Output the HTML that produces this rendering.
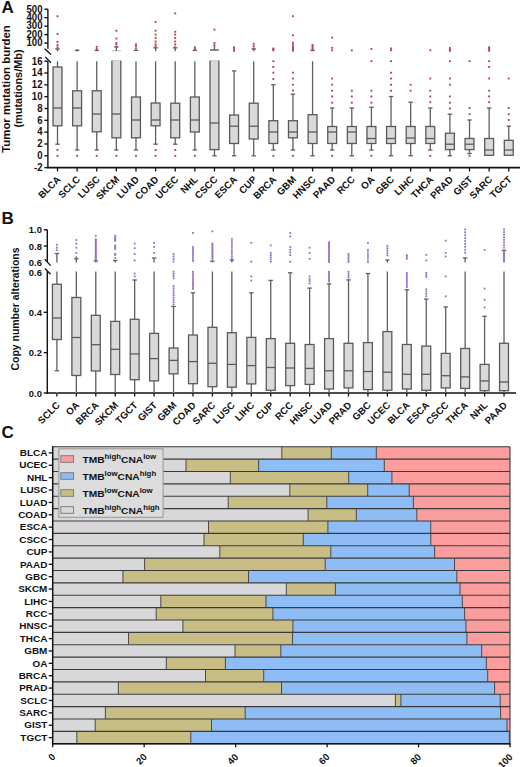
<!DOCTYPE html>
<html><head><meta charset="utf-8"><style>
html,body{margin:0;padding:0;background:#fff;}
svg{display:block;font-family:"Liberation Sans", sans-serif;}
</style></head><body>
<svg width="520" height="767" viewBox="0 0 520 767">
<rect width="520" height="767" fill="#fff"/>
<text x="1.6" y="13" font-size="17" text-anchor="start" font-weight="bold" fill="#111">A</text>
<line x1="47.9" y1="9.2" x2="47.9" y2="48.8" stroke="#111" stroke-width="1.4"/>
<line x1="44.4" y1="9.2" x2="47.9" y2="9.2" stroke="#111" stroke-width="1.4"/>
<text transform="translate(42.5 12.5) scale(1 1.07)" font-size="9.6" text-anchor="end" font-weight="bold" fill="#111">500</text>
<line x1="44.4" y1="17.67" x2="47.9" y2="17.67" stroke="#111" stroke-width="1.4"/>
<text transform="translate(42.5 20.97) scale(1 1.07)" font-size="9.6" text-anchor="end" font-weight="bold" fill="#111">400</text>
<line x1="44.4" y1="26.15" x2="47.9" y2="26.15" stroke="#111" stroke-width="1.4"/>
<text transform="translate(42.5 29.45) scale(1 1.07)" font-size="9.6" text-anchor="end" font-weight="bold" fill="#111">300</text>
<line x1="44.4" y1="34.62" x2="47.9" y2="34.62" stroke="#111" stroke-width="1.4"/>
<text transform="translate(42.5 37.92) scale(1 1.07)" font-size="9.6" text-anchor="end" font-weight="bold" fill="#111">200</text>
<line x1="44.4" y1="43.1" x2="47.9" y2="43.1" stroke="#111" stroke-width="1.4"/>
<text transform="translate(42.5 46.4) scale(1 1.07)" font-size="9.6" text-anchor="end" font-weight="bold" fill="#111">100</text>
<line x1="44.6" y1="48.8" x2="51" y2="54.6" stroke="#111" stroke-width="1.3"/>
<line x1="45.2" y1="56.9" x2="51" y2="62.7" stroke="#111" stroke-width="1.3"/>
<line x1="47.9" y1="61.2" x2="47.9" y2="167.6" stroke="#111" stroke-width="1.4"/>
<line x1="44.4" y1="61.2" x2="47.9" y2="61.2" stroke="#111" stroke-width="1.4"/>
<text transform="translate(42.5 64.5) scale(1 1.07)" font-size="9.6" text-anchor="end" font-weight="bold" fill="#111">16</text>
<line x1="44.4" y1="73.03" x2="47.9" y2="73.03" stroke="#111" stroke-width="1.4"/>
<text transform="translate(42.5 76.33) scale(1 1.07)" font-size="9.6" text-anchor="end" font-weight="bold" fill="#111">14</text>
<line x1="44.4" y1="84.85" x2="47.9" y2="84.85" stroke="#111" stroke-width="1.4"/>
<text transform="translate(42.5 88.15) scale(1 1.07)" font-size="9.6" text-anchor="end" font-weight="bold" fill="#111">12</text>
<line x1="44.4" y1="96.68" x2="47.9" y2="96.68" stroke="#111" stroke-width="1.4"/>
<text transform="translate(42.5 99.98) scale(1 1.07)" font-size="9.6" text-anchor="end" font-weight="bold" fill="#111">10</text>
<line x1="44.4" y1="108.5" x2="47.9" y2="108.5" stroke="#111" stroke-width="1.4"/>
<text transform="translate(42.5 111.8) scale(1 1.07)" font-size="9.6" text-anchor="end" font-weight="bold" fill="#111">8</text>
<line x1="44.4" y1="120.33" x2="47.9" y2="120.33" stroke="#111" stroke-width="1.4"/>
<text transform="translate(42.5 123.63) scale(1 1.07)" font-size="9.6" text-anchor="end" font-weight="bold" fill="#111">6</text>
<line x1="44.4" y1="132.15" x2="47.9" y2="132.15" stroke="#111" stroke-width="1.4"/>
<text transform="translate(42.5 135.45) scale(1 1.07)" font-size="9.6" text-anchor="end" font-weight="bold" fill="#111">4</text>
<line x1="44.4" y1="143.98" x2="47.9" y2="143.98" stroke="#111" stroke-width="1.4"/>
<text transform="translate(42.5 147.28) scale(1 1.07)" font-size="9.6" text-anchor="end" font-weight="bold" fill="#111">2</text>
<line x1="44.4" y1="155.8" x2="47.9" y2="155.8" stroke="#111" stroke-width="1.4"/>
<text transform="translate(42.5 159.1) scale(1 1.07)" font-size="9.6" text-anchor="end" font-weight="bold" fill="#111">0</text>
<line x1="44.4" y1="167.62" x2="47.9" y2="167.62" stroke="#111" stroke-width="1.4"/>
<text transform="translate(42.5 170.93) scale(1 1.07)" font-size="9.6" text-anchor="end" font-weight="bold" fill="#111">-2</text>
<line x1="47.2" y1="167.6" x2="520" y2="167.6" stroke="#111" stroke-width="1.6"/>
<line x1="57.5" y1="61.2" x2="57.5" y2="67" stroke="#5e5e5e" stroke-width="1.3"/>
<line x1="57.5" y1="125.8" x2="57.5" y2="144.2" stroke="#5e5e5e" stroke-width="1.3"/>
<line x1="55.3" y1="144.2" x2="59.7" y2="144.2" stroke="#5e5e5e" stroke-width="1.3"/>
<rect x="53.05" y="67" width="8.9" height="58.8" fill="#d9d9d9" stroke="#5a5a5a" stroke-width="1.3"/>
<line x1="53.05" y1="108" x2="61.95" y2="108" stroke="#5a5a5a" stroke-width="1.3"/>
<line x1="57.5" y1="49" x2="57.5" y2="51.3" stroke="#5e5e5e" stroke-width="1.3"/>
<line x1="55.3" y1="49" x2="59.7" y2="49" stroke="#5e5e5e" stroke-width="1.3"/>
<rect x="56.55" y="15.25" width="1.9" height="1.9" fill="#b4474f"/>
<rect x="56.55" y="32.95" width="1.9" height="1.9" fill="#b4474f"/>
<rect x="56.55" y="41.05" width="1.9" height="1.9" fill="#b4474f"/>
<rect x="56.55" y="44.05" width="1.9" height="1.9" fill="#b4474f"/>
<rect x="56.55" y="46.35" width="1.9" height="1.9" fill="#b4474f"/>
<rect x="56.55" y="48.05" width="1.9" height="1.9" fill="#b4474f"/>
<rect x="56.55" y="149.05" width="1.9" height="1.9" fill="#b4474f"/>
<rect x="56.55" y="154.85" width="1.9" height="1.9" fill="#b4474f"/>
<line x1="57.5" y1="167.6" x2="57.5" y2="171.4" stroke="#111" stroke-width="1.3"/>
<text x="61.2" y="180" font-size="9.7" text-anchor="end" font-weight="bold" fill="#111" transform="rotate(-45 61.2 180)">BLCA</text>
<line x1="77.12" y1="61.2" x2="77.12" y2="90.8" stroke="#5e5e5e" stroke-width="1.3"/>
<line x1="77.12" y1="125.8" x2="77.12" y2="150" stroke="#5e5e5e" stroke-width="1.3"/>
<line x1="74.92" y1="150" x2="79.32" y2="150" stroke="#5e5e5e" stroke-width="1.3"/>
<rect x="72.67" y="90.8" width="8.9" height="35" fill="#d9d9d9" stroke="#5a5a5a" stroke-width="1.3"/>
<line x1="72.67" y1="108" x2="81.57" y2="108" stroke="#5a5a5a" stroke-width="1.3"/>
<line x1="77.12" y1="50.3" x2="77.12" y2="51.3" stroke="#5e5e5e" stroke-width="1.3"/>
<line x1="74.92" y1="50.3" x2="79.32" y2="50.3" stroke="#5e5e5e" stroke-width="1.3"/>
<rect x="76.17" y="49.35" width="1.9" height="1.9" fill="#b4474f"/>
<rect x="76.17" y="154.85" width="1.9" height="1.9" fill="#b4474f"/>
<line x1="77.12" y1="167.6" x2="77.12" y2="171.4" stroke="#111" stroke-width="1.3"/>
<text x="80.82" y="180" font-size="9.7" text-anchor="end" font-weight="bold" fill="#111" transform="rotate(-45 80.82 180)">SCLC</text>
<line x1="96.74" y1="61.2" x2="96.74" y2="90.8" stroke="#5e5e5e" stroke-width="1.3"/>
<line x1="96.74" y1="131.8" x2="96.74" y2="150" stroke="#5e5e5e" stroke-width="1.3"/>
<line x1="94.54" y1="150" x2="98.94" y2="150" stroke="#5e5e5e" stroke-width="1.3"/>
<rect x="92.29" y="90.8" width="8.9" height="41" fill="#d9d9d9" stroke="#5a5a5a" stroke-width="1.3"/>
<line x1="92.29" y1="114" x2="101.19" y2="114" stroke="#5a5a5a" stroke-width="1.3"/>
<line x1="96.74" y1="50.3" x2="96.74" y2="51.3" stroke="#5e5e5e" stroke-width="1.3"/>
<line x1="94.54" y1="50.3" x2="98.94" y2="50.3" stroke="#5e5e5e" stroke-width="1.3"/>
<rect x="95.79" y="45.85" width="1.9" height="1.9" fill="#b4474f"/>
<rect x="95.79" y="48.05" width="1.9" height="1.9" fill="#b4474f"/>
<rect x="95.79" y="154.85" width="1.9" height="1.9" fill="#b4474f"/>
<line x1="96.74" y1="167.6" x2="96.74" y2="171.4" stroke="#111" stroke-width="1.3"/>
<text x="100.44" y="180" font-size="9.7" text-anchor="end" font-weight="bold" fill="#111" transform="rotate(-45 100.44 180)">LUSC</text>
<line x1="116.36" y1="61.2" x2="116.36" y2="61.2" stroke="#5e5e5e" stroke-width="1.3"/>
<line x1="116.36" y1="137.8" x2="116.36" y2="150" stroke="#5e5e5e" stroke-width="1.3"/>
<line x1="114.16" y1="150" x2="118.56" y2="150" stroke="#5e5e5e" stroke-width="1.3"/>
<rect x="111.91" y="61.2" width="8.9" height="76.6" fill="#d9d9d9" stroke="#5a5a5a" stroke-width="1.3"/>
<rect x="112.61" y="60.2" width="7.5" height="2" fill="#d9d9d9"/>
<line x1="111.91" y1="114" x2="120.81" y2="114" stroke="#5a5a5a" stroke-width="1.3"/>
<line x1="111.91" y1="50.8" x2="120.81" y2="50.8" stroke="#bbb" stroke-width="1"/>
<line x1="116.36" y1="46.9" x2="116.36" y2="50.8" stroke="#5e5e5e" stroke-width="1.3"/>
<line x1="114.16" y1="46.9" x2="118.56" y2="46.9" stroke="#5e5e5e" stroke-width="1.3"/>
<rect x="115.41" y="29.85" width="1.9" height="1.9" fill="#b4474f"/>
<rect x="115.41" y="37.55" width="1.9" height="1.9" fill="#b4474f"/>
<rect x="115.41" y="42.05" width="1.9" height="1.9" fill="#b4474f"/>
<rect x="115.41" y="43.65" width="1.9" height="1.9" fill="#b4474f"/>
<rect x="115.41" y="45.95" width="1.9" height="1.9" fill="#b4474f"/>
<rect x="115.41" y="154.85" width="1.9" height="1.9" fill="#b4474f"/>
<line x1="116.36" y1="167.6" x2="116.36" y2="171.4" stroke="#111" stroke-width="1.3"/>
<text x="120.06" y="180" font-size="9.7" text-anchor="end" font-weight="bold" fill="#111" transform="rotate(-45 120.06 180)">SKCM</text>
<line x1="135.98" y1="61.2" x2="135.98" y2="97" stroke="#5e5e5e" stroke-width="1.3"/>
<line x1="135.98" y1="137.8" x2="135.98" y2="150" stroke="#5e5e5e" stroke-width="1.3"/>
<line x1="133.78" y1="150" x2="138.18" y2="150" stroke="#5e5e5e" stroke-width="1.3"/>
<rect x="131.53" y="97" width="8.9" height="40.8" fill="#d9d9d9" stroke="#5a5a5a" stroke-width="1.3"/>
<line x1="131.53" y1="120" x2="140.43" y2="120" stroke="#5a5a5a" stroke-width="1.3"/>
<line x1="135.98" y1="50.3" x2="135.98" y2="51.3" stroke="#5e5e5e" stroke-width="1.3"/>
<line x1="133.78" y1="50.3" x2="138.18" y2="50.3" stroke="#5e5e5e" stroke-width="1.3"/>
<rect x="135.03" y="43.35" width="1.9" height="1.9" fill="#b4474f"/>
<rect x="135.03" y="45.25" width="1.9" height="1.9" fill="#b4474f"/>
<rect x="135.03" y="47.55" width="1.9" height="1.9" fill="#b4474f"/>
<rect x="135.03" y="154.85" width="1.9" height="1.9" fill="#b4474f"/>
<line x1="135.98" y1="167.6" x2="135.98" y2="171.4" stroke="#111" stroke-width="1.3"/>
<text x="139.68" y="180" font-size="9.7" text-anchor="end" font-weight="bold" fill="#111" transform="rotate(-45 139.68 180)">LUAD</text>
<line x1="155.6" y1="61.2" x2="155.6" y2="103" stroke="#5e5e5e" stroke-width="1.3"/>
<line x1="155.6" y1="125.8" x2="155.6" y2="144.2" stroke="#5e5e5e" stroke-width="1.3"/>
<line x1="153.4" y1="144.2" x2="157.8" y2="144.2" stroke="#5e5e5e" stroke-width="1.3"/>
<rect x="151.15" y="103" width="8.9" height="22.8" fill="#d9d9d9" stroke="#5a5a5a" stroke-width="1.3"/>
<line x1="151.15" y1="120" x2="160.05" y2="120" stroke="#5a5a5a" stroke-width="1.3"/>
<line x1="155.6" y1="47.8" x2="155.6" y2="51.3" stroke="#5e5e5e" stroke-width="1.3"/>
<line x1="153.4" y1="47.8" x2="157.8" y2="47.8" stroke="#5e5e5e" stroke-width="1.3"/>
<rect x="154.65" y="20.95" width="1.9" height="1.9" fill="#b4474f"/>
<rect x="154.65" y="29.75" width="1.9" height="1.9" fill="#b4474f"/>
<rect x="154.65" y="33.65" width="1.9" height="1.9" fill="#b4474f"/>
<rect x="154.65" y="37.05" width="1.9" height="1.9" fill="#b4474f"/>
<rect x="154.65" y="40.55" width="1.9" height="1.9" fill="#b4474f"/>
<rect x="154.65" y="43.35" width="1.9" height="1.9" fill="#b4474f"/>
<rect x="154.65" y="45.25" width="1.9" height="1.9" fill="#b4474f"/>
<rect x="154.65" y="149.05" width="1.9" height="1.9" fill="#b4474f"/>
<rect x="154.65" y="154.85" width="1.9" height="1.9" fill="#b4474f"/>
<line x1="155.6" y1="167.6" x2="155.6" y2="171.4" stroke="#111" stroke-width="1.3"/>
<text x="159.3" y="180" font-size="9.7" text-anchor="end" font-weight="bold" fill="#111" transform="rotate(-45 159.3 180)">COAD</text>
<line x1="175.22" y1="61.2" x2="175.22" y2="103.2" stroke="#5e5e5e" stroke-width="1.3"/>
<line x1="175.22" y1="137.8" x2="175.22" y2="144.2" stroke="#5e5e5e" stroke-width="1.3"/>
<line x1="173.02" y1="144.2" x2="177.42" y2="144.2" stroke="#5e5e5e" stroke-width="1.3"/>
<rect x="170.77" y="103.2" width="8.9" height="34.6" fill="#d9d9d9" stroke="#5a5a5a" stroke-width="1.3"/>
<line x1="170.77" y1="120" x2="179.67" y2="120" stroke="#5a5a5a" stroke-width="1.3"/>
<line x1="175.22" y1="47.8" x2="175.22" y2="51.3" stroke="#5e5e5e" stroke-width="1.3"/>
<line x1="173.02" y1="47.8" x2="177.42" y2="47.8" stroke="#5e5e5e" stroke-width="1.3"/>
<rect x="174.27" y="12.45" width="1.9" height="1.9" fill="#b4474f"/>
<rect x="174.27" y="30.85" width="1.9" height="1.9" fill="#b4474f"/>
<rect x="174.27" y="33.65" width="1.9" height="1.9" fill="#b4474f"/>
<rect x="174.27" y="37.15" width="1.9" height="1.9" fill="#b4474f"/>
<rect x="174.27" y="40.55" width="1.9" height="1.9" fill="#b4474f"/>
<rect x="174.27" y="43.55" width="1.9" height="1.9" fill="#b4474f"/>
<rect x="174.27" y="46.35" width="1.9" height="1.9" fill="#b4474f"/>
<rect x="174.27" y="149.05" width="1.9" height="1.9" fill="#b4474f"/>
<rect x="174.27" y="154.85" width="1.9" height="1.9" fill="#b4474f"/>
<line x1="175.22" y1="167.6" x2="175.22" y2="171.4" stroke="#111" stroke-width="1.3"/>
<text x="178.92" y="180" font-size="9.7" text-anchor="end" font-weight="bold" fill="#111" transform="rotate(-45 178.92 180)">UCEC</text>
<line x1="194.84" y1="61.2" x2="194.84" y2="97" stroke="#5e5e5e" stroke-width="1.3"/>
<line x1="194.84" y1="132" x2="194.84" y2="150" stroke="#5e5e5e" stroke-width="1.3"/>
<line x1="192.64" y1="150" x2="197.04" y2="150" stroke="#5e5e5e" stroke-width="1.3"/>
<rect x="190.39" y="97" width="8.9" height="35" fill="#d9d9d9" stroke="#5a5a5a" stroke-width="1.3"/>
<line x1="190.39" y1="120" x2="199.29" y2="120" stroke="#5a5a5a" stroke-width="1.3"/>
<line x1="194.84" y1="50.3" x2="194.84" y2="51.3" stroke="#5e5e5e" stroke-width="1.3"/>
<line x1="192.64" y1="50.3" x2="197.04" y2="50.3" stroke="#5e5e5e" stroke-width="1.3"/>
<rect x="193.89" y="46.35" width="1.9" height="1.9" fill="#b4474f"/>
<rect x="193.89" y="48.05" width="1.9" height="1.9" fill="#b4474f"/>
<rect x="193.89" y="154.85" width="1.9" height="1.9" fill="#b4474f"/>
<line x1="194.84" y1="167.6" x2="194.84" y2="171.4" stroke="#111" stroke-width="1.3"/>
<text x="198.54" y="180" font-size="9.7" text-anchor="end" font-weight="bold" fill="#111" transform="rotate(-45 198.54 180)">NHL</text>
<line x1="214.46" y1="61.2" x2="214.46" y2="61.2" stroke="#5e5e5e" stroke-width="1.3"/>
<line x1="214.46" y1="149.6" x2="214.46" y2="155.8" stroke="#5e5e5e" stroke-width="1.3"/>
<line x1="212.26" y1="155.8" x2="216.66" y2="155.8" stroke="#5e5e5e" stroke-width="1.3"/>
<rect x="210.01" y="61.2" width="8.9" height="88.4" fill="#d9d9d9" stroke="#5a5a5a" stroke-width="1.3"/>
<rect x="210.71" y="60.2" width="7.5" height="2" fill="#d9d9d9"/>
<line x1="210.01" y1="123" x2="218.91" y2="123" stroke="#5a5a5a" stroke-width="1.3"/>
<line x1="210.01" y1="50" x2="218.91" y2="50" stroke="#5a5a5a" stroke-width="1.4"/>
<line x1="214.46" y1="44.5" x2="214.46" y2="50" stroke="#5e5e5e" stroke-width="1.3"/>
<rect x="213.51" y="28.65" width="1.9" height="1.9" fill="#b4474f"/>
<rect x="213.51" y="42.05" width="1.9" height="1.9" fill="#b4474f"/>
<rect x="213.51" y="44.45" width="1.9" height="1.9" fill="#b4474f"/>
<line x1="214.46" y1="167.6" x2="214.46" y2="171.4" stroke="#111" stroke-width="1.3"/>
<text x="218.16" y="180" font-size="9.7" text-anchor="end" font-weight="bold" fill="#111" transform="rotate(-45 218.16 180)">CSCC</text>
<line x1="234.08" y1="70.9" x2="234.08" y2="115" stroke="#5e5e5e" stroke-width="1.3"/>
<line x1="231.88" y1="70.9" x2="236.28" y2="70.9" stroke="#5e5e5e" stroke-width="1.3"/>
<line x1="234.08" y1="143.5" x2="234.08" y2="155.8" stroke="#5e5e5e" stroke-width="1.3"/>
<line x1="231.88" y1="155.8" x2="236.28" y2="155.8" stroke="#5e5e5e" stroke-width="1.3"/>
<rect x="229.63" y="115" width="8.9" height="28.5" fill="#d9d9d9" stroke="#5a5a5a" stroke-width="1.3"/>
<line x1="229.63" y1="126.2" x2="238.53" y2="126.2" stroke="#5a5a5a" stroke-width="1.3"/>
<rect x="233.13" y="46.35" width="1.9" height="1.9" fill="#b4474f"/>
<rect x="233.13" y="48.05" width="1.9" height="1.9" fill="#b4474f"/>
<rect x="233.13" y="49.85" width="1.9" height="1.9" fill="#b4474f"/>
<line x1="234.08" y1="167.6" x2="234.08" y2="171.4" stroke="#111" stroke-width="1.3"/>
<text x="237.78" y="180" font-size="9.7" text-anchor="end" font-weight="bold" fill="#111" transform="rotate(-45 237.78 180)">ESCA</text>
<line x1="253.7" y1="61.2" x2="253.7" y2="103.2" stroke="#5e5e5e" stroke-width="1.3"/>
<line x1="253.7" y1="139" x2="253.7" y2="155.8" stroke="#5e5e5e" stroke-width="1.3"/>
<line x1="251.5" y1="155.8" x2="255.9" y2="155.8" stroke="#5e5e5e" stroke-width="1.3"/>
<rect x="249.25" y="103.2" width="8.9" height="35.8" fill="#d9d9d9" stroke="#5a5a5a" stroke-width="1.3"/>
<line x1="249.25" y1="126.2" x2="258.15" y2="126.2" stroke="#5a5a5a" stroke-width="1.3"/>
<line x1="253.7" y1="49" x2="253.7" y2="51.3" stroke="#5e5e5e" stroke-width="1.3"/>
<line x1="251.5" y1="49" x2="255.9" y2="49" stroke="#5e5e5e" stroke-width="1.3"/>
<rect x="252.75" y="42.85" width="1.9" height="1.9" fill="#b4474f"/>
<rect x="252.75" y="45.25" width="1.9" height="1.9" fill="#b4474f"/>
<rect x="252.75" y="47.55" width="1.9" height="1.9" fill="#b4474f"/>
<line x1="253.7" y1="167.6" x2="253.7" y2="171.4" stroke="#111" stroke-width="1.3"/>
<text x="257.4" y="180" font-size="9.7" text-anchor="end" font-weight="bold" fill="#111" transform="rotate(-45 257.4 180)">CUP</text>
<line x1="273.32" y1="84.7" x2="273.32" y2="120.7" stroke="#5e5e5e" stroke-width="1.3"/>
<line x1="271.12" y1="84.7" x2="275.52" y2="84.7" stroke="#5e5e5e" stroke-width="1.3"/>
<line x1="273.32" y1="143.5" x2="273.32" y2="150" stroke="#5e5e5e" stroke-width="1.3"/>
<line x1="271.12" y1="150" x2="275.52" y2="150" stroke="#5e5e5e" stroke-width="1.3"/>
<rect x="268.87" y="120.7" width="8.9" height="22.8" fill="#d9d9d9" stroke="#5a5a5a" stroke-width="1.3"/>
<line x1="268.87" y1="132" x2="277.77" y2="132" stroke="#5a5a5a" stroke-width="1.3"/>
<rect x="272.37" y="47.55" width="1.9" height="1.9" fill="#b4474f"/>
<rect x="272.37" y="48.55" width="1.9" height="1.9" fill="#b4474f"/>
<rect x="272.37" y="49.35" width="1.9" height="1.9" fill="#b4474f"/>
<rect x="272.37" y="60.25" width="1.9" height="1.9" fill="#b4474f"/>
<rect x="272.37" y="66.05" width="1.9" height="1.9" fill="#b4474f"/>
<rect x="272.37" y="71.75" width="1.9" height="1.9" fill="#b4474f"/>
<rect x="272.37" y="78.05" width="1.9" height="1.9" fill="#b4474f"/>
<rect x="272.37" y="154.85" width="1.9" height="1.9" fill="#b4474f"/>
<line x1="273.32" y1="167.6" x2="273.32" y2="171.4" stroke="#111" stroke-width="1.3"/>
<text x="277.02" y="180" font-size="9.7" text-anchor="end" font-weight="bold" fill="#111" transform="rotate(-45 277.02 180)">BRCA</text>
<line x1="292.94" y1="94.2" x2="292.94" y2="120.7" stroke="#5e5e5e" stroke-width="1.3"/>
<line x1="290.74" y1="94.2" x2="295.14" y2="94.2" stroke="#5e5e5e" stroke-width="1.3"/>
<line x1="292.94" y1="137.8" x2="292.94" y2="150" stroke="#5e5e5e" stroke-width="1.3"/>
<line x1="290.74" y1="150" x2="295.14" y2="150" stroke="#5e5e5e" stroke-width="1.3"/>
<rect x="288.49" y="120.7" width="8.9" height="17.1" fill="#d9d9d9" stroke="#5a5a5a" stroke-width="1.3"/>
<line x1="288.49" y1="132" x2="297.39" y2="132" stroke="#5a5a5a" stroke-width="1.3"/>
<rect x="291.99" y="15.25" width="1.9" height="1.9" fill="#b4474f"/>
<rect x="291.99" y="34.35" width="1.9" height="1.9" fill="#b4474f"/>
<rect x="291.99" y="41.75" width="1.9" height="1.9" fill="#b4474f"/>
<rect x="291.99" y="43.55" width="1.9" height="1.9" fill="#b4474f"/>
<rect x="291.99" y="45.35" width="1.9" height="1.9" fill="#b4474f"/>
<rect x="291.99" y="47.05" width="1.9" height="1.9" fill="#b4474f"/>
<rect x="291.99" y="48.55" width="1.9" height="1.9" fill="#b4474f"/>
<rect x="291.99" y="49.85" width="1.9" height="1.9" fill="#b4474f"/>
<rect x="291.99" y="71.75" width="1.9" height="1.9" fill="#b4474f"/>
<rect x="291.99" y="77.55" width="1.9" height="1.9" fill="#b4474f"/>
<rect x="291.99" y="83.75" width="1.9" height="1.9" fill="#b4474f"/>
<rect x="291.99" y="89.55" width="1.9" height="1.9" fill="#b4474f"/>
<rect x="291.99" y="154.85" width="1.9" height="1.9" fill="#b4474f"/>
<line x1="292.94" y1="167.6" x2="292.94" y2="171.4" stroke="#111" stroke-width="1.3"/>
<text x="296.64" y="180" font-size="9.7" text-anchor="end" font-weight="bold" fill="#111" transform="rotate(-45 296.64 180)">GBM</text>
<line x1="312.56" y1="61.2" x2="312.56" y2="114.7" stroke="#5e5e5e" stroke-width="1.3"/>
<line x1="312.56" y1="143.5" x2="312.56" y2="155.8" stroke="#5e5e5e" stroke-width="1.3"/>
<line x1="310.36" y1="155.8" x2="314.76" y2="155.8" stroke="#5e5e5e" stroke-width="1.3"/>
<rect x="308.11" y="114.7" width="8.9" height="28.8" fill="#d9d9d9" stroke="#5a5a5a" stroke-width="1.3"/>
<line x1="308.11" y1="132" x2="317.01" y2="132" stroke="#5a5a5a" stroke-width="1.3"/>
<line x1="312.56" y1="50.3" x2="312.56" y2="51.3" stroke="#5e5e5e" stroke-width="1.3"/>
<line x1="310.36" y1="50.3" x2="314.76" y2="50.3" stroke="#5e5e5e" stroke-width="1.3"/>
<rect x="311.61" y="44.05" width="1.9" height="1.9" fill="#b4474f"/>
<rect x="311.61" y="45.55" width="1.9" height="1.9" fill="#b4474f"/>
<rect x="311.61" y="47.05" width="1.9" height="1.9" fill="#b4474f"/>
<rect x="311.61" y="48.55" width="1.9" height="1.9" fill="#b4474f"/>
<line x1="312.56" y1="167.6" x2="312.56" y2="171.4" stroke="#111" stroke-width="1.3"/>
<text x="316.26" y="180" font-size="9.7" text-anchor="end" font-weight="bold" fill="#111" transform="rotate(-45 316.26 180)">HNSC</text>
<line x1="332.18" y1="108" x2="332.18" y2="126.5" stroke="#5e5e5e" stroke-width="1.3"/>
<line x1="329.98" y1="108" x2="334.38" y2="108" stroke="#5e5e5e" stroke-width="1.3"/>
<line x1="332.18" y1="143.5" x2="332.18" y2="150" stroke="#5e5e5e" stroke-width="1.3"/>
<line x1="329.98" y1="150" x2="334.38" y2="150" stroke="#5e5e5e" stroke-width="1.3"/>
<rect x="327.73" y="126.5" width="8.9" height="17" fill="#d9d9d9" stroke="#5a5a5a" stroke-width="1.3"/>
<line x1="327.73" y1="132" x2="336.63" y2="132" stroke="#5a5a5a" stroke-width="1.3"/>
<rect x="331.23" y="36.65" width="1.9" height="1.9" fill="#b4474f"/>
<rect x="331.23" y="46.85" width="1.9" height="1.9" fill="#b4474f"/>
<rect x="331.23" y="49.35" width="1.9" height="1.9" fill="#b4474f"/>
<rect x="331.23" y="77.55" width="1.9" height="1.9" fill="#b4474f"/>
<rect x="331.23" y="83.75" width="1.9" height="1.9" fill="#b4474f"/>
<rect x="331.23" y="89.75" width="1.9" height="1.9" fill="#b4474f"/>
<rect x="331.23" y="95.55" width="1.9" height="1.9" fill="#b4474f"/>
<rect x="331.23" y="101.75" width="1.9" height="1.9" fill="#b4474f"/>
<rect x="331.23" y="154.85" width="1.9" height="1.9" fill="#b4474f"/>
<line x1="332.18" y1="167.6" x2="332.18" y2="171.4" stroke="#111" stroke-width="1.3"/>
<text x="335.88" y="180" font-size="9.7" text-anchor="end" font-weight="bold" fill="#111" transform="rotate(-45 335.88 180)">PAAD</text>
<line x1="351.8" y1="108" x2="351.8" y2="126.5" stroke="#5e5e5e" stroke-width="1.3"/>
<line x1="349.6" y1="108" x2="354" y2="108" stroke="#5e5e5e" stroke-width="1.3"/>
<line x1="351.8" y1="143.5" x2="351.8" y2="155.8" stroke="#5e5e5e" stroke-width="1.3"/>
<line x1="349.6" y1="155.8" x2="354" y2="155.8" stroke="#5e5e5e" stroke-width="1.3"/>
<rect x="347.35" y="126.5" width="8.9" height="17" fill="#d9d9d9" stroke="#5a5a5a" stroke-width="1.3"/>
<line x1="347.35" y1="132" x2="356.25" y2="132" stroke="#5a5a5a" stroke-width="1.3"/>
<rect x="350.85" y="49.35" width="1.9" height="1.9" fill="#b4474f"/>
<rect x="350.85" y="89.75" width="1.9" height="1.9" fill="#b4474f"/>
<rect x="350.85" y="95.55" width="1.9" height="1.9" fill="#b4474f"/>
<rect x="350.85" y="101.75" width="1.9" height="1.9" fill="#b4474f"/>
<line x1="351.8" y1="167.6" x2="351.8" y2="171.4" stroke="#111" stroke-width="1.3"/>
<text x="355.5" y="180" font-size="9.7" text-anchor="end" font-weight="bold" fill="#111" transform="rotate(-45 355.5 180)">RCC</text>
<line x1="371.42" y1="107.3" x2="371.42" y2="126.5" stroke="#5e5e5e" stroke-width="1.3"/>
<line x1="369.22" y1="107.3" x2="373.62" y2="107.3" stroke="#5e5e5e" stroke-width="1.3"/>
<line x1="371.42" y1="143.5" x2="371.42" y2="150" stroke="#5e5e5e" stroke-width="1.3"/>
<line x1="369.22" y1="150" x2="373.62" y2="150" stroke="#5e5e5e" stroke-width="1.3"/>
<rect x="366.97" y="126.5" width="8.9" height="17" fill="#d9d9d9" stroke="#5a5a5a" stroke-width="1.3"/>
<line x1="366.97" y1="138.5" x2="375.87" y2="138.5" stroke="#5a5a5a" stroke-width="1.3"/>
<rect x="370.47" y="48.05" width="1.9" height="1.9" fill="#b4474f"/>
<rect x="370.47" y="60.25" width="1.9" height="1.9" fill="#b4474f"/>
<rect x="370.47" y="89.75" width="1.9" height="1.9" fill="#b4474f"/>
<rect x="370.47" y="95.55" width="1.9" height="1.9" fill="#b4474f"/>
<rect x="370.47" y="101.75" width="1.9" height="1.9" fill="#b4474f"/>
<rect x="370.47" y="154.85" width="1.9" height="1.9" fill="#b4474f"/>
<line x1="371.42" y1="167.6" x2="371.42" y2="171.4" stroke="#111" stroke-width="1.3"/>
<text x="375.12" y="180" font-size="9.7" text-anchor="end" font-weight="bold" fill="#111" transform="rotate(-45 375.12 180)">OA</text>
<line x1="391.04" y1="96.5" x2="391.04" y2="126.5" stroke="#5e5e5e" stroke-width="1.3"/>
<line x1="388.84" y1="96.5" x2="393.24" y2="96.5" stroke="#5e5e5e" stroke-width="1.3"/>
<line x1="391.04" y1="143.5" x2="391.04" y2="155.8" stroke="#5e5e5e" stroke-width="1.3"/>
<line x1="388.84" y1="155.8" x2="393.24" y2="155.8" stroke="#5e5e5e" stroke-width="1.3"/>
<rect x="386.59" y="126.5" width="8.9" height="17" fill="#d9d9d9" stroke="#5a5a5a" stroke-width="1.3"/>
<line x1="386.59" y1="138.5" x2="395.49" y2="138.5" stroke="#5a5a5a" stroke-width="1.3"/>
<rect x="390.09" y="47.55" width="1.9" height="1.9" fill="#b4474f"/>
<rect x="390.09" y="49.35" width="1.9" height="1.9" fill="#b4474f"/>
<rect x="390.09" y="60.25" width="1.9" height="1.9" fill="#b4474f"/>
<rect x="390.09" y="71.75" width="1.9" height="1.9" fill="#b4474f"/>
<rect x="390.09" y="77.55" width="1.9" height="1.9" fill="#b4474f"/>
<rect x="390.09" y="83.75" width="1.9" height="1.9" fill="#b4474f"/>
<rect x="390.09" y="89.75" width="1.9" height="1.9" fill="#b4474f"/>
<line x1="391.04" y1="167.6" x2="391.04" y2="171.4" stroke="#111" stroke-width="1.3"/>
<text x="394.74" y="180" font-size="9.7" text-anchor="end" font-weight="bold" fill="#111" transform="rotate(-45 394.74 180)">GBC</text>
<line x1="410.66" y1="102.2" x2="410.66" y2="126.5" stroke="#5e5e5e" stroke-width="1.3"/>
<line x1="408.46" y1="102.2" x2="412.86" y2="102.2" stroke="#5e5e5e" stroke-width="1.3"/>
<line x1="410.66" y1="143.5" x2="410.66" y2="155.8" stroke="#5e5e5e" stroke-width="1.3"/>
<line x1="408.46" y1="155.8" x2="412.86" y2="155.8" stroke="#5e5e5e" stroke-width="1.3"/>
<rect x="406.21" y="126.5" width="8.9" height="17" fill="#d9d9d9" stroke="#5a5a5a" stroke-width="1.3"/>
<line x1="406.21" y1="138" x2="415.11" y2="138" stroke="#5a5a5a" stroke-width="1.3"/>
<rect x="409.71" y="83.75" width="1.9" height="1.9" fill="#b4474f"/>
<rect x="409.71" y="89.75" width="1.9" height="1.9" fill="#b4474f"/>
<line x1="410.66" y1="167.6" x2="410.66" y2="171.4" stroke="#111" stroke-width="1.3"/>
<text x="414.36" y="180" font-size="9.7" text-anchor="end" font-weight="bold" fill="#111" transform="rotate(-45 414.36 180)">LIHC</text>
<line x1="430.28" y1="108" x2="430.28" y2="126.5" stroke="#5e5e5e" stroke-width="1.3"/>
<line x1="428.08" y1="108" x2="432.48" y2="108" stroke="#5e5e5e" stroke-width="1.3"/>
<line x1="430.28" y1="143.5" x2="430.28" y2="150" stroke="#5e5e5e" stroke-width="1.3"/>
<line x1="428.08" y1="150" x2="432.48" y2="150" stroke="#5e5e5e" stroke-width="1.3"/>
<rect x="425.83" y="126.5" width="8.9" height="17" fill="#d9d9d9" stroke="#5a5a5a" stroke-width="1.3"/>
<line x1="425.83" y1="138.5" x2="434.73" y2="138.5" stroke="#5a5a5a" stroke-width="1.3"/>
<rect x="429.33" y="49.35" width="1.9" height="1.9" fill="#b4474f"/>
<rect x="429.33" y="77.55" width="1.9" height="1.9" fill="#b4474f"/>
<rect x="429.33" y="89.75" width="1.9" height="1.9" fill="#b4474f"/>
<rect x="429.33" y="95.55" width="1.9" height="1.9" fill="#b4474f"/>
<rect x="429.33" y="101.25" width="1.9" height="1.9" fill="#b4474f"/>
<rect x="429.33" y="154.85" width="1.9" height="1.9" fill="#b4474f"/>
<line x1="430.28" y1="167.6" x2="430.28" y2="171.4" stroke="#111" stroke-width="1.3"/>
<text x="433.98" y="180" font-size="9.7" text-anchor="end" font-weight="bold" fill="#111" transform="rotate(-45 433.98 180)">THCA</text>
<line x1="449.9" y1="114.2" x2="449.9" y2="133.2" stroke="#5e5e5e" stroke-width="1.3"/>
<line x1="447.7" y1="114.2" x2="452.1" y2="114.2" stroke="#5e5e5e" stroke-width="1.3"/>
<line x1="449.9" y1="149.6" x2="449.9" y2="155.8" stroke="#5e5e5e" stroke-width="1.3"/>
<line x1="447.7" y1="155.8" x2="452.1" y2="155.8" stroke="#5e5e5e" stroke-width="1.3"/>
<rect x="445.45" y="133.2" width="8.9" height="16.4" fill="#d9d9d9" stroke="#5a5a5a" stroke-width="1.3"/>
<line x1="445.45" y1="144.2" x2="454.35" y2="144.2" stroke="#5a5a5a" stroke-width="1.3"/>
<rect x="448.95" y="47.05" width="1.9" height="1.9" fill="#b4474f"/>
<rect x="448.95" y="48.55" width="1.9" height="1.9" fill="#b4474f"/>
<rect x="448.95" y="49.85" width="1.9" height="1.9" fill="#b4474f"/>
<rect x="448.95" y="60.25" width="1.9" height="1.9" fill="#b4474f"/>
<rect x="448.95" y="77.55" width="1.9" height="1.9" fill="#b4474f"/>
<rect x="448.95" y="83.75" width="1.9" height="1.9" fill="#b4474f"/>
<rect x="448.95" y="95.55" width="1.9" height="1.9" fill="#b4474f"/>
<rect x="448.95" y="101.75" width="1.9" height="1.9" fill="#b4474f"/>
<rect x="448.95" y="107.55" width="1.9" height="1.9" fill="#b4474f"/>
<line x1="449.9" y1="167.6" x2="449.9" y2="171.4" stroke="#111" stroke-width="1.3"/>
<text x="453.6" y="180" font-size="9.7" text-anchor="end" font-weight="bold" fill="#111" transform="rotate(-45 453.6 180)">PRAD</text>
<line x1="469.52" y1="120" x2="469.52" y2="138.5" stroke="#5e5e5e" stroke-width="1.3"/>
<line x1="467.32" y1="120" x2="471.72" y2="120" stroke="#5e5e5e" stroke-width="1.3"/>
<line x1="469.52" y1="149.6" x2="469.52" y2="153.5" stroke="#5e5e5e" stroke-width="1.3"/>
<line x1="467.32" y1="153.5" x2="471.72" y2="153.5" stroke="#5e5e5e" stroke-width="1.3"/>
<rect x="465.07" y="138.5" width="8.9" height="11.1" fill="#d9d9d9" stroke="#5a5a5a" stroke-width="1.3"/>
<line x1="465.07" y1="144.2" x2="473.97" y2="144.2" stroke="#5a5a5a" stroke-width="1.3"/>
<rect x="468.57" y="60.25" width="1.9" height="1.9" fill="#b4474f"/>
<rect x="468.57" y="107.05" width="1.9" height="1.9" fill="#b4474f"/>
<rect x="468.57" y="113.25" width="1.9" height="1.9" fill="#b4474f"/>
<rect x="468.57" y="154.85" width="1.9" height="1.9" fill="#b4474f"/>
<line x1="469.52" y1="167.6" x2="469.52" y2="171.4" stroke="#111" stroke-width="1.3"/>
<text x="473.22" y="180" font-size="9.7" text-anchor="end" font-weight="bold" fill="#111" transform="rotate(-45 473.22 180)">GIST</text>
<line x1="489.14" y1="108" x2="489.14" y2="138.5" stroke="#5e5e5e" stroke-width="1.3"/>
<line x1="486.94" y1="108" x2="491.34" y2="108" stroke="#5e5e5e" stroke-width="1.3"/>
<rect x="484.69" y="138.5" width="8.9" height="16.8" fill="#d9d9d9" stroke="#5a5a5a" stroke-width="1.3"/>
<line x1="484.69" y1="150" x2="493.59" y2="150" stroke="#5a5a5a" stroke-width="1.3"/>
<rect x="488.19" y="46.35" width="1.9" height="1.9" fill="#b4474f"/>
<rect x="488.19" y="47.55" width="1.9" height="1.9" fill="#b4474f"/>
<rect x="488.19" y="48.55" width="1.9" height="1.9" fill="#b4474f"/>
<rect x="488.19" y="49.85" width="1.9" height="1.9" fill="#b4474f"/>
<rect x="488.19" y="60.25" width="1.9" height="1.9" fill="#b4474f"/>
<rect x="488.19" y="66.05" width="1.9" height="1.9" fill="#b4474f"/>
<rect x="488.19" y="77.55" width="1.9" height="1.9" fill="#b4474f"/>
<rect x="488.19" y="89.75" width="1.9" height="1.9" fill="#b4474f"/>
<rect x="488.19" y="95.55" width="1.9" height="1.9" fill="#b4474f"/>
<rect x="488.19" y="101.25" width="1.9" height="1.9" fill="#b4474f"/>
<line x1="489.14" y1="167.6" x2="489.14" y2="171.4" stroke="#111" stroke-width="1.3"/>
<text x="492.84" y="180" font-size="9.7" text-anchor="end" font-weight="bold" fill="#111" transform="rotate(-45 492.84 180)">SARC</text>
<line x1="508.76" y1="126.2" x2="508.76" y2="140.3" stroke="#5e5e5e" stroke-width="1.3"/>
<line x1="506.56" y1="126.2" x2="510.96" y2="126.2" stroke="#5e5e5e" stroke-width="1.3"/>
<rect x="504.31" y="140.3" width="8.9" height="15" fill="#d9d9d9" stroke="#5a5a5a" stroke-width="1.3"/>
<line x1="504.31" y1="150" x2="513.21" y2="150" stroke="#5a5a5a" stroke-width="1.3"/>
<rect x="507.81" y="77.55" width="1.9" height="1.9" fill="#b4474f"/>
<rect x="507.81" y="107.05" width="1.9" height="1.9" fill="#b4474f"/>
<rect x="507.81" y="113.25" width="1.9" height="1.9" fill="#b4474f"/>
<rect x="507.81" y="119.05" width="1.9" height="1.9" fill="#b4474f"/>
<line x1="508.76" y1="167.6" x2="508.76" y2="171.4" stroke="#111" stroke-width="1.3"/>
<text x="512.46" y="180" font-size="9.7" text-anchor="end" font-weight="bold" fill="#111" transform="rotate(-45 512.46 180)">TGCT</text>
<text x="9.7" y="89" font-size="11.4" text-anchor="middle" font-weight="bold" fill="#111" transform="rotate(-90 9.7 89)">Tumor mutation burden</text>
<text x="22.3" y="88.5" font-size="10.9" text-anchor="middle" font-weight="bold" fill="#111" transform="rotate(-90 22.3 88.5)">(mutations/Mb)</text>
<text x="1.6" y="224.4" font-size="17" text-anchor="start" font-weight="bold" fill="#111">B</text>
<line x1="47.3" y1="229.8" x2="47.3" y2="261.5" stroke="#111" stroke-width="1.4"/>
<line x1="43.8" y1="229.8" x2="47.3" y2="229.8" stroke="#111" stroke-width="1.4"/>
<text transform="translate(41.9 233.4) scale(1 1.0)" font-size="9.4" text-anchor="end" font-weight="bold" fill="#111">1.0</text>
<line x1="43.8" y1="246" x2="47.3" y2="246" stroke="#111" stroke-width="1.4"/>
<text transform="translate(41.9 249.6) scale(1 1.0)" font-size="9.4" text-anchor="end" font-weight="bold" fill="#111">0.8</text>
<text transform="translate(41.9 265.8) scale(1 1.0)" font-size="9.4" text-anchor="end" font-weight="bold" fill="#111">0.6</text>
<line x1="44.8" y1="259.2" x2="50.6" y2="265.6" stroke="#111" stroke-width="1.3"/>
<line x1="44.8" y1="268.5" x2="50.6" y2="274.2" stroke="#111" stroke-width="1.3"/>
<line x1="47.3" y1="271.3" x2="47.3" y2="393.8" stroke="#111" stroke-width="1.4"/>
<text transform="translate(41.9 275.6) scale(1 1.0)" font-size="9.4" text-anchor="end" font-weight="bold" fill="#111">0.6</text>
<line x1="43.8" y1="312.33" x2="47.3" y2="312.33" stroke="#111" stroke-width="1.4"/>
<text transform="translate(41.9 315.93) scale(1 1.0)" font-size="9.4" text-anchor="end" font-weight="bold" fill="#111">0.4</text>
<line x1="43.8" y1="352.67" x2="47.3" y2="352.67" stroke="#111" stroke-width="1.4"/>
<text transform="translate(41.9 356.27) scale(1 1.0)" font-size="9.4" text-anchor="end" font-weight="bold" fill="#111">0.2</text>
<line x1="43.8" y1="393" x2="47.3" y2="393" stroke="#111" stroke-width="1.4"/>
<text transform="translate(41.9 396.6) scale(1 1.0)" font-size="9.4" text-anchor="end" font-weight="bold" fill="#111">0.0</text>
<line x1="46.6" y1="393" x2="516" y2="393" stroke="#111" stroke-width="1.6"/>
<line x1="56.9" y1="271.5" x2="56.9" y2="284.25" stroke="#5e5e5e" stroke-width="1.3"/>
<line x1="56.9" y1="339.5" x2="56.9" y2="370.75" stroke="#5e5e5e" stroke-width="1.3"/>
<line x1="54.7" y1="370.75" x2="59.1" y2="370.75" stroke="#5e5e5e" stroke-width="1.3"/>
<rect x="52.45" y="284.25" width="8.9" height="55.25" fill="#d9d9d9" stroke="#5a5a5a" stroke-width="1.3"/>
<line x1="52.45" y1="318" x2="61.35" y2="318" stroke="#5a5a5a" stroke-width="1.3"/>
<line x1="56.9" y1="253.5" x2="56.9" y2="262.5" stroke="#5e5e5e" stroke-width="1.3"/>
<line x1="54.7" y1="253.5" x2="59.1" y2="253.5" stroke="#5e5e5e" stroke-width="1.3"/>
<rect x="56" y="243.9" width="1.8" height="1.8" fill="#9670c4"/>
<rect x="56" y="246.8" width="1.8" height="1.8" fill="#9670c4"/>
<rect x="56" y="249.3" width="1.8" height="1.8" fill="#9670c4"/>
<rect x="56" y="392.1" width="1.8" height="1.8" fill="#9670c4"/>
<line x1="56.9" y1="393" x2="56.9" y2="396.5" stroke="#111" stroke-width="1.3"/>
<text x="60.5" y="405.8" font-size="9.7" text-anchor="end" font-weight="bold" fill="#111" transform="rotate(-45 60.5 405.8)">SCLC</text>
<line x1="76.34" y1="271.5" x2="76.34" y2="297.5" stroke="#5e5e5e" stroke-width="1.3"/>
<line x1="76.34" y1="375.5" x2="76.34" y2="393" stroke="#5e5e5e" stroke-width="1.3"/>
<rect x="71.89" y="297.5" width="8.9" height="78" fill="#d9d9d9" stroke="#5a5a5a" stroke-width="1.3"/>
<line x1="71.89" y1="337.5" x2="80.79" y2="337.5" stroke="#5a5a5a" stroke-width="1.3"/>
<line x1="76.34" y1="258.75" x2="76.34" y2="262.5" stroke="#5e5e5e" stroke-width="1.3"/>
<line x1="74.14" y1="258.75" x2="78.54" y2="258.75" stroke="#5e5e5e" stroke-width="1.3"/>
<rect x="75.44" y="239.1" width="1.8" height="1.8" fill="#9670c4"/>
<rect x="75.44" y="242.6" width="1.8" height="1.8" fill="#9670c4"/>
<rect x="75.44" y="246.8" width="1.8" height="1.8" fill="#9670c4"/>
<rect x="75.44" y="252" width="1.8" height="1.8" fill="#9670c4"/>
<rect x="75.44" y="256.2" width="1.8" height="1.8" fill="#9670c4"/>
<rect x="75.44" y="392.1" width="1.8" height="1.8" fill="#9670c4"/>
<line x1="76.34" y1="393" x2="76.34" y2="396.5" stroke="#111" stroke-width="1.3"/>
<text x="79.94" y="405.8" font-size="9.7" text-anchor="end" font-weight="bold" fill="#111" transform="rotate(-45 79.94 405.8)">OA</text>
<line x1="95.78" y1="271.5" x2="95.78" y2="315.3" stroke="#5e5e5e" stroke-width="1.3"/>
<line x1="95.78" y1="371" x2="95.78" y2="393" stroke="#5e5e5e" stroke-width="1.3"/>
<rect x="91.33" y="315.3" width="8.9" height="55.7" fill="#d9d9d9" stroke="#5a5a5a" stroke-width="1.3"/>
<line x1="91.33" y1="344.7" x2="100.23" y2="344.7" stroke="#5a5a5a" stroke-width="1.3"/>
<line x1="95.78" y1="260.8" x2="95.78" y2="262.5" stroke="#5e5e5e" stroke-width="1.3"/>
<line x1="93.58" y1="260.8" x2="97.98" y2="260.8" stroke="#5e5e5e" stroke-width="1.3"/>
<rect x="94.88" y="234.9" width="1.8" height="1.8" fill="#9670c4"/>
<rect x="94.88" y="238.3" width="1.8" height="1.8" fill="#9670c4"/>
<rect x="94.88" y="239.4" width="1.8" height="1.8" fill="#9670c4"/>
<rect x="94.88" y="240.5" width="1.8" height="1.8" fill="#9670c4"/>
<rect x="94.88" y="241.6" width="1.8" height="1.8" fill="#9670c4"/>
<rect x="94.88" y="242.7" width="1.8" height="1.8" fill="#9670c4"/>
<rect x="94.88" y="243.8" width="1.8" height="1.8" fill="#9670c4"/>
<rect x="94.88" y="244.9" width="1.8" height="1.8" fill="#9670c4"/>
<rect x="94.88" y="246" width="1.8" height="1.8" fill="#9670c4"/>
<rect x="94.88" y="247.1" width="1.8" height="1.8" fill="#9670c4"/>
<rect x="94.88" y="248.2" width="1.8" height="1.8" fill="#9670c4"/>
<rect x="94.88" y="249.3" width="1.8" height="1.8" fill="#9670c4"/>
<rect x="94.88" y="250.4" width="1.8" height="1.8" fill="#9670c4"/>
<rect x="94.88" y="251.5" width="1.8" height="1.8" fill="#9670c4"/>
<rect x="94.88" y="252.6" width="1.8" height="1.8" fill="#9670c4"/>
<rect x="94.88" y="253.7" width="1.8" height="1.8" fill="#9670c4"/>
<rect x="94.88" y="254.8" width="1.8" height="1.8" fill="#9670c4"/>
<rect x="94.88" y="255.9" width="1.8" height="1.8" fill="#9670c4"/>
<rect x="94.88" y="257" width="1.8" height="1.8" fill="#9670c4"/>
<rect x="94.88" y="258.1" width="1.8" height="1.8" fill="#9670c4"/>
<rect x="94.88" y="259.2" width="1.8" height="1.8" fill="#9670c4"/>
<line x1="95.78" y1="393" x2="95.78" y2="396.5" stroke="#111" stroke-width="1.3"/>
<text x="99.38" y="405.8" font-size="9.7" text-anchor="end" font-weight="bold" fill="#111" transform="rotate(-45 99.38 405.8)">BRCA</text>
<line x1="115.22" y1="271.5" x2="115.22" y2="321.4" stroke="#5e5e5e" stroke-width="1.3"/>
<line x1="115.22" y1="374.5" x2="115.22" y2="393" stroke="#5e5e5e" stroke-width="1.3"/>
<rect x="110.77" y="321.4" width="8.9" height="53.1" fill="#d9d9d9" stroke="#5a5a5a" stroke-width="1.3"/>
<line x1="110.77" y1="349.3" x2="119.67" y2="349.3" stroke="#5a5a5a" stroke-width="1.3"/>
<line x1="115.22" y1="260.5" x2="115.22" y2="262.5" stroke="#5e5e5e" stroke-width="1.3"/>
<line x1="113.02" y1="260.5" x2="117.42" y2="260.5" stroke="#5e5e5e" stroke-width="1.3"/>
<rect x="114.32" y="234.9" width="1.8" height="1.8" fill="#9670c4"/>
<rect x="114.32" y="236.4" width="1.8" height="1.8" fill="#9670c4"/>
<rect x="114.32" y="237.6" width="1.8" height="1.8" fill="#9670c4"/>
<rect x="114.32" y="238.8" width="1.8" height="1.8" fill="#9670c4"/>
<rect x="114.32" y="240" width="1.8" height="1.8" fill="#9670c4"/>
<rect x="114.32" y="244.5" width="1.8" height="1.8" fill="#9670c4"/>
<rect x="114.32" y="245.7" width="1.8" height="1.8" fill="#9670c4"/>
<rect x="114.32" y="246.9" width="1.8" height="1.8" fill="#9670c4"/>
<rect x="114.32" y="248.1" width="1.8" height="1.8" fill="#9670c4"/>
<rect x="114.32" y="252.9" width="1.8" height="1.8" fill="#9670c4"/>
<rect x="114.32" y="254.1" width="1.8" height="1.8" fill="#9670c4"/>
<rect x="114.32" y="257.1" width="1.8" height="1.8" fill="#9670c4"/>
<line x1="115.22" y1="393" x2="115.22" y2="396.5" stroke="#111" stroke-width="1.3"/>
<text x="118.82" y="405.8" font-size="9.7" text-anchor="end" font-weight="bold" fill="#111" transform="rotate(-45 118.82 405.8)">SKCM</text>
<line x1="134.66" y1="280" x2="134.66" y2="319.3" stroke="#5e5e5e" stroke-width="1.3"/>
<line x1="132.46" y1="280" x2="136.86" y2="280" stroke="#5e5e5e" stroke-width="1.3"/>
<line x1="134.66" y1="379.7" x2="134.66" y2="393" stroke="#5e5e5e" stroke-width="1.3"/>
<rect x="130.21" y="319.3" width="8.9" height="60.4" fill="#d9d9d9" stroke="#5a5a5a" stroke-width="1.3"/>
<line x1="130.21" y1="353.9" x2="139.11" y2="353.9" stroke="#5a5a5a" stroke-width="1.3"/>
<rect x="133.76" y="242.6" width="1.8" height="1.8" fill="#9670c4"/>
<rect x="133.76" y="247.3" width="1.8" height="1.8" fill="#9670c4"/>
<rect x="133.76" y="253.1" width="1.8" height="1.8" fill="#9670c4"/>
<rect x="133.76" y="259.5" width="1.8" height="1.8" fill="#9670c4"/>
<rect x="133.76" y="272.6" width="1.8" height="1.8" fill="#9670c4"/>
<rect x="133.76" y="275.5" width="1.8" height="1.8" fill="#9670c4"/>
<line x1="134.66" y1="393" x2="134.66" y2="396.5" stroke="#111" stroke-width="1.3"/>
<text x="138.26" y="405.8" font-size="9.7" text-anchor="end" font-weight="bold" fill="#111" transform="rotate(-45 138.26 405.8)">TGCT</text>
<line x1="154.1" y1="271.5" x2="154.1" y2="333.4" stroke="#5e5e5e" stroke-width="1.3"/>
<line x1="154.1" y1="380.9" x2="154.1" y2="393" stroke="#5e5e5e" stroke-width="1.3"/>
<rect x="149.65" y="333.4" width="8.9" height="47.5" fill="#d9d9d9" stroke="#5a5a5a" stroke-width="1.3"/>
<line x1="149.65" y1="358.6" x2="158.55" y2="358.6" stroke="#5a5a5a" stroke-width="1.3"/>
<line x1="154.1" y1="258" x2="154.1" y2="262.5" stroke="#5e5e5e" stroke-width="1.3"/>
<line x1="151.9" y1="258" x2="156.3" y2="258" stroke="#5e5e5e" stroke-width="1.3"/>
<rect x="153.2" y="241.9" width="1.8" height="1.8" fill="#9670c4"/>
<rect x="153.2" y="246.1" width="1.8" height="1.8" fill="#9670c4"/>
<rect x="153.2" y="252" width="1.8" height="1.8" fill="#9670c4"/>
<line x1="154.1" y1="393" x2="154.1" y2="396.5" stroke="#111" stroke-width="1.3"/>
<text x="157.7" y="405.8" font-size="9.7" text-anchor="end" font-weight="bold" fill="#111" transform="rotate(-45 157.7 405.8)">GIST</text>
<line x1="173.54" y1="306.4" x2="173.54" y2="348" stroke="#5e5e5e" stroke-width="1.3"/>
<line x1="171.34" y1="306.4" x2="175.74" y2="306.4" stroke="#5e5e5e" stroke-width="1.3"/>
<line x1="173.54" y1="373.8" x2="173.54" y2="393" stroke="#5e5e5e" stroke-width="1.3"/>
<rect x="169.09" y="348" width="8.9" height="25.8" fill="#d9d9d9" stroke="#5a5a5a" stroke-width="1.3"/>
<line x1="169.09" y1="360.4" x2="177.99" y2="360.4" stroke="#5a5a5a" stroke-width="1.3"/>
<rect x="172.64" y="253.1" width="1.8" height="1.8" fill="#9670c4"/>
<rect x="172.64" y="255.6" width="1.8" height="1.8" fill="#9670c4"/>
<rect x="172.64" y="258.1" width="1.8" height="1.8" fill="#9670c4"/>
<rect x="172.64" y="260.6" width="1.8" height="1.8" fill="#9670c4"/>
<rect x="172.64" y="270.8" width="1.8" height="1.8" fill="#9670c4"/>
<rect x="172.64" y="273" width="1.8" height="1.8" fill="#9670c4"/>
<rect x="172.64" y="275.2" width="1.8" height="1.8" fill="#9670c4"/>
<rect x="172.64" y="277.4" width="1.8" height="1.8" fill="#9670c4"/>
<rect x="172.64" y="285.1" width="1.8" height="1.8" fill="#9670c4"/>
<rect x="172.64" y="287.4" width="1.8" height="1.8" fill="#9670c4"/>
<rect x="172.64" y="289.7" width="1.8" height="1.8" fill="#9670c4"/>
<rect x="172.64" y="292" width="1.8" height="1.8" fill="#9670c4"/>
<rect x="172.64" y="294.3" width="1.8" height="1.8" fill="#9670c4"/>
<rect x="172.64" y="296.6" width="1.8" height="1.8" fill="#9670c4"/>
<rect x="172.64" y="298.9" width="1.8" height="1.8" fill="#9670c4"/>
<rect x="172.64" y="301.2" width="1.8" height="1.8" fill="#9670c4"/>
<rect x="172.64" y="303.5" width="1.8" height="1.8" fill="#9670c4"/>
<rect x="172.64" y="392.1" width="1.8" height="1.8" fill="#9670c4"/>
<line x1="173.54" y1="393" x2="173.54" y2="396.5" stroke="#111" stroke-width="1.3"/>
<text x="177.14" y="405.8" font-size="9.7" text-anchor="end" font-weight="bold" fill="#111" transform="rotate(-45 177.14 405.8)">GBM</text>
<line x1="192.98" y1="292.8" x2="192.98" y2="335" stroke="#5e5e5e" stroke-width="1.3"/>
<line x1="190.78" y1="292.8" x2="195.18" y2="292.8" stroke="#5e5e5e" stroke-width="1.3"/>
<line x1="192.98" y1="383.7" x2="192.98" y2="393" stroke="#5e5e5e" stroke-width="1.3"/>
<rect x="188.53" y="335" width="8.9" height="48.7" fill="#d9d9d9" stroke="#5a5a5a" stroke-width="1.3"/>
<line x1="188.53" y1="361.6" x2="197.43" y2="361.6" stroke="#5a5a5a" stroke-width="1.3"/>
<rect x="192.08" y="232" width="1.8" height="1.8" fill="#9670c4"/>
<rect x="192.08" y="246.1" width="1.8" height="1.8" fill="#9670c4"/>
<rect x="192.08" y="248.1" width="1.8" height="1.8" fill="#9670c4"/>
<rect x="192.08" y="250.1" width="1.8" height="1.8" fill="#9670c4"/>
<rect x="192.08" y="252.1" width="1.8" height="1.8" fill="#9670c4"/>
<rect x="192.08" y="254.1" width="1.8" height="1.8" fill="#9670c4"/>
<rect x="192.08" y="256.1" width="1.8" height="1.8" fill="#9670c4"/>
<rect x="192.08" y="258.1" width="1.8" height="1.8" fill="#9670c4"/>
<rect x="192.08" y="260.1" width="1.8" height="1.8" fill="#9670c4"/>
<rect x="192.08" y="270.8" width="1.8" height="1.8" fill="#9670c4"/>
<rect x="192.08" y="272.7" width="1.8" height="1.8" fill="#9670c4"/>
<rect x="192.08" y="274.6" width="1.8" height="1.8" fill="#9670c4"/>
<rect x="192.08" y="276.5" width="1.8" height="1.8" fill="#9670c4"/>
<rect x="192.08" y="278.4" width="1.8" height="1.8" fill="#9670c4"/>
<rect x="192.08" y="280.3" width="1.8" height="1.8" fill="#9670c4"/>
<rect x="192.08" y="282.2" width="1.8" height="1.8" fill="#9670c4"/>
<rect x="192.08" y="284.1" width="1.8" height="1.8" fill="#9670c4"/>
<rect x="192.08" y="286" width="1.8" height="1.8" fill="#9670c4"/>
<rect x="192.08" y="287.9" width="1.8" height="1.8" fill="#9670c4"/>
<line x1="192.98" y1="393" x2="192.98" y2="396.5" stroke="#111" stroke-width="1.3"/>
<text x="196.58" y="405.8" font-size="9.7" text-anchor="end" font-weight="bold" fill="#111" transform="rotate(-45 196.58 405.8)">COAD</text>
<line x1="212.42" y1="271.5" x2="212.42" y2="327.3" stroke="#5e5e5e" stroke-width="1.3"/>
<line x1="212.42" y1="386.7" x2="212.42" y2="393" stroke="#5e5e5e" stroke-width="1.3"/>
<rect x="207.97" y="327.3" width="8.9" height="59.4" fill="#d9d9d9" stroke="#5a5a5a" stroke-width="1.3"/>
<line x1="207.97" y1="363.3" x2="216.87" y2="363.3" stroke="#5a5a5a" stroke-width="1.3"/>
<line x1="212.42" y1="261.1" x2="212.42" y2="262.5" stroke="#5e5e5e" stroke-width="1.3"/>
<line x1="210.22" y1="261.1" x2="214.62" y2="261.1" stroke="#5e5e5e" stroke-width="1.3"/>
<rect x="211.52" y="230.4" width="1.8" height="1.8" fill="#9670c4"/>
<rect x="211.52" y="242.6" width="1.8" height="1.8" fill="#9670c4"/>
<rect x="211.52" y="244" width="1.8" height="1.8" fill="#9670c4"/>
<rect x="211.52" y="245.4" width="1.8" height="1.8" fill="#9670c4"/>
<rect x="211.52" y="246.8" width="1.8" height="1.8" fill="#9670c4"/>
<rect x="211.52" y="248.2" width="1.8" height="1.8" fill="#9670c4"/>
<rect x="211.52" y="249.6" width="1.8" height="1.8" fill="#9670c4"/>
<rect x="211.52" y="251" width="1.8" height="1.8" fill="#9670c4"/>
<rect x="211.52" y="252.4" width="1.8" height="1.8" fill="#9670c4"/>
<rect x="211.52" y="253.8" width="1.8" height="1.8" fill="#9670c4"/>
<rect x="211.52" y="255.2" width="1.8" height="1.8" fill="#9670c4"/>
<rect x="211.52" y="256.6" width="1.8" height="1.8" fill="#9670c4"/>
<rect x="211.52" y="258" width="1.8" height="1.8" fill="#9670c4"/>
<line x1="212.42" y1="393" x2="212.42" y2="396.5" stroke="#111" stroke-width="1.3"/>
<text x="216.02" y="405.8" font-size="9.7" text-anchor="end" font-weight="bold" fill="#111" transform="rotate(-45 216.02 405.8)">SARC</text>
<line x1="231.86" y1="271.5" x2="231.86" y2="332.7" stroke="#5e5e5e" stroke-width="1.3"/>
<line x1="231.86" y1="387.2" x2="231.86" y2="393" stroke="#5e5e5e" stroke-width="1.3"/>
<rect x="227.41" y="332.7" width="8.9" height="54.5" fill="#d9d9d9" stroke="#5a5a5a" stroke-width="1.3"/>
<line x1="227.41" y1="364.4" x2="236.31" y2="364.4" stroke="#5a5a5a" stroke-width="1.3"/>
<line x1="231.86" y1="260" x2="231.86" y2="262.5" stroke="#5e5e5e" stroke-width="1.3"/>
<line x1="229.66" y1="260" x2="234.06" y2="260" stroke="#5e5e5e" stroke-width="1.3"/>
<rect x="230.96" y="237.9" width="1.8" height="1.8" fill="#9670c4"/>
<rect x="230.96" y="240.1" width="1.8" height="1.8" fill="#9670c4"/>
<rect x="230.96" y="242.3" width="1.8" height="1.8" fill="#9670c4"/>
<rect x="230.96" y="244.5" width="1.8" height="1.8" fill="#9670c4"/>
<rect x="230.96" y="246.7" width="1.8" height="1.8" fill="#9670c4"/>
<rect x="230.96" y="248.9" width="1.8" height="1.8" fill="#9670c4"/>
<rect x="230.96" y="251.1" width="1.8" height="1.8" fill="#9670c4"/>
<rect x="230.96" y="253.3" width="1.8" height="1.8" fill="#9670c4"/>
<rect x="230.96" y="255.5" width="1.8" height="1.8" fill="#9670c4"/>
<rect x="230.96" y="257.7" width="1.8" height="1.8" fill="#9670c4"/>
<line x1="231.86" y1="393" x2="231.86" y2="396.5" stroke="#111" stroke-width="1.3"/>
<text x="235.46" y="405.8" font-size="9.7" text-anchor="end" font-weight="bold" fill="#111" transform="rotate(-45 235.46 405.8)">LUSC</text>
<line x1="251.3" y1="292.8" x2="251.3" y2="337.4" stroke="#5e5e5e" stroke-width="1.3"/>
<line x1="249.1" y1="292.8" x2="253.5" y2="292.8" stroke="#5e5e5e" stroke-width="1.3"/>
<line x1="251.3" y1="383.9" x2="251.3" y2="393" stroke="#5e5e5e" stroke-width="1.3"/>
<rect x="246.85" y="337.4" width="8.9" height="46.5" fill="#d9d9d9" stroke="#5a5a5a" stroke-width="1.3"/>
<line x1="246.85" y1="365.6" x2="255.75" y2="365.6" stroke="#5a5a5a" stroke-width="1.3"/>
<rect x="250.4" y="241.9" width="1.8" height="1.8" fill="#9670c4"/>
<rect x="250.4" y="260.7" width="1.8" height="1.8" fill="#9670c4"/>
<rect x="250.4" y="275.5" width="1.8" height="1.8" fill="#9670c4"/>
<rect x="250.4" y="279.7" width="1.8" height="1.8" fill="#9670c4"/>
<line x1="251.3" y1="393" x2="251.3" y2="396.5" stroke="#111" stroke-width="1.3"/>
<text x="254.9" y="405.8" font-size="9.7" text-anchor="end" font-weight="bold" fill="#111" transform="rotate(-45 254.9 405.8)">LIHC</text>
<line x1="270.74" y1="280.4" x2="270.74" y2="338.6" stroke="#5e5e5e" stroke-width="1.3"/>
<line x1="268.54" y1="280.4" x2="272.94" y2="280.4" stroke="#5e5e5e" stroke-width="1.3"/>
<line x1="270.74" y1="390.3" x2="270.74" y2="393" stroke="#5e5e5e" stroke-width="1.3"/>
<rect x="266.29" y="338.6" width="8.9" height="51.7" fill="#d9d9d9" stroke="#5a5a5a" stroke-width="1.3"/>
<line x1="266.29" y1="367.5" x2="275.19" y2="367.5" stroke="#5a5a5a" stroke-width="1.3"/>
<rect x="269.84" y="244.5" width="1.8" height="1.8" fill="#9670c4"/>
<rect x="269.84" y="252" width="1.8" height="1.8" fill="#9670c4"/>
<rect x="269.84" y="254.2" width="1.8" height="1.8" fill="#9670c4"/>
<rect x="269.84" y="256.4" width="1.8" height="1.8" fill="#9670c4"/>
<rect x="269.84" y="258.6" width="1.8" height="1.8" fill="#9670c4"/>
<rect x="269.84" y="260.8" width="1.8" height="1.8" fill="#9670c4"/>
<line x1="270.74" y1="393" x2="270.74" y2="396.5" stroke="#111" stroke-width="1.3"/>
<text x="274.34" y="405.8" font-size="9.7" text-anchor="end" font-weight="bold" fill="#111" transform="rotate(-45 274.34 405.8)">CUP</text>
<line x1="290.18" y1="272.8" x2="290.18" y2="343.3" stroke="#5e5e5e" stroke-width="1.3"/>
<line x1="287.98" y1="272.8" x2="292.38" y2="272.8" stroke="#5e5e5e" stroke-width="1.3"/>
<line x1="290.18" y1="385.6" x2="290.18" y2="393" stroke="#5e5e5e" stroke-width="1.3"/>
<rect x="285.73" y="343.3" width="8.9" height="42.3" fill="#d9d9d9" stroke="#5a5a5a" stroke-width="1.3"/>
<line x1="285.73" y1="368" x2="294.63" y2="368" stroke="#5a5a5a" stroke-width="1.3"/>
<rect x="289.28" y="232.1" width="1.8" height="1.8" fill="#9670c4"/>
<rect x="289.28" y="235.5" width="1.8" height="1.8" fill="#9670c4"/>
<rect x="289.28" y="246.1" width="1.8" height="1.8" fill="#9670c4"/>
<rect x="289.28" y="248.8" width="1.8" height="1.8" fill="#9670c4"/>
<rect x="289.28" y="251.5" width="1.8" height="1.8" fill="#9670c4"/>
<rect x="289.28" y="254.2" width="1.8" height="1.8" fill="#9670c4"/>
<rect x="289.28" y="260.9" width="1.8" height="1.8" fill="#9670c4"/>
<line x1="290.18" y1="393" x2="290.18" y2="396.5" stroke="#111" stroke-width="1.3"/>
<text x="293.78" y="405.8" font-size="9.7" text-anchor="end" font-weight="bold" fill="#111" transform="rotate(-45 293.78 405.8)">RCC</text>
<line x1="309.62" y1="288.1" x2="309.62" y2="344.5" stroke="#5e5e5e" stroke-width="1.3"/>
<line x1="307.42" y1="288.1" x2="311.82" y2="288.1" stroke="#5e5e5e" stroke-width="1.3"/>
<line x1="309.62" y1="384.4" x2="309.62" y2="393" stroke="#5e5e5e" stroke-width="1.3"/>
<rect x="305.17" y="344.5" width="8.9" height="39.9" fill="#d9d9d9" stroke="#5a5a5a" stroke-width="1.3"/>
<line x1="305.17" y1="368.4" x2="314.07" y2="368.4" stroke="#5a5a5a" stroke-width="1.3"/>
<rect x="308.72" y="246.8" width="1.8" height="1.8" fill="#9670c4"/>
<rect x="308.72" y="252" width="1.8" height="1.8" fill="#9670c4"/>
<rect x="308.72" y="257.9" width="1.8" height="1.8" fill="#9670c4"/>
<rect x="308.72" y="275.5" width="1.8" height="1.8" fill="#9670c4"/>
<rect x="308.72" y="278.1" width="1.8" height="1.8" fill="#9670c4"/>
<rect x="308.72" y="280.1" width="1.8" height="1.8" fill="#9670c4"/>
<rect x="308.72" y="282.5" width="1.8" height="1.8" fill="#9670c4"/>
<line x1="309.62" y1="393" x2="309.62" y2="396.5" stroke="#111" stroke-width="1.3"/>
<text x="313.22" y="405.8" font-size="9.7" text-anchor="end" font-weight="bold" fill="#111" transform="rotate(-45 313.22 405.8)">HNSC</text>
<line x1="329.06" y1="283.9" x2="329.06" y2="338.6" stroke="#5e5e5e" stroke-width="1.3"/>
<line x1="326.86" y1="283.9" x2="331.26" y2="283.9" stroke="#5e5e5e" stroke-width="1.3"/>
<line x1="329.06" y1="389" x2="329.06" y2="393" stroke="#5e5e5e" stroke-width="1.3"/>
<rect x="324.61" y="338.6" width="8.9" height="50.4" fill="#d9d9d9" stroke="#5a5a5a" stroke-width="1.3"/>
<line x1="324.61" y1="370.8" x2="333.51" y2="370.8" stroke="#5a5a5a" stroke-width="1.3"/>
<rect x="328.16" y="241.4" width="1.8" height="1.8" fill="#9670c4"/>
<rect x="328.16" y="242.8" width="1.8" height="1.8" fill="#9670c4"/>
<rect x="328.16" y="244.2" width="1.8" height="1.8" fill="#9670c4"/>
<rect x="328.16" y="245.6" width="1.8" height="1.8" fill="#9670c4"/>
<rect x="328.16" y="247" width="1.8" height="1.8" fill="#9670c4"/>
<rect x="328.16" y="248.4" width="1.8" height="1.8" fill="#9670c4"/>
<rect x="328.16" y="249.8" width="1.8" height="1.8" fill="#9670c4"/>
<rect x="328.16" y="251.2" width="1.8" height="1.8" fill="#9670c4"/>
<rect x="328.16" y="252.6" width="1.8" height="1.8" fill="#9670c4"/>
<rect x="328.16" y="254" width="1.8" height="1.8" fill="#9670c4"/>
<rect x="328.16" y="255.4" width="1.8" height="1.8" fill="#9670c4"/>
<rect x="328.16" y="256.8" width="1.8" height="1.8" fill="#9670c4"/>
<rect x="328.16" y="258.2" width="1.8" height="1.8" fill="#9670c4"/>
<rect x="328.16" y="259.6" width="1.8" height="1.8" fill="#9670c4"/>
<rect x="328.16" y="261" width="1.8" height="1.8" fill="#9670c4"/>
<rect x="328.16" y="270.8" width="1.8" height="1.8" fill="#9670c4"/>
<rect x="328.16" y="272.2" width="1.8" height="1.8" fill="#9670c4"/>
<rect x="328.16" y="273.6" width="1.8" height="1.8" fill="#9670c4"/>
<rect x="328.16" y="275" width="1.8" height="1.8" fill="#9670c4"/>
<rect x="328.16" y="276.4" width="1.8" height="1.8" fill="#9670c4"/>
<rect x="328.16" y="277.8" width="1.8" height="1.8" fill="#9670c4"/>
<rect x="328.16" y="279.2" width="1.8" height="1.8" fill="#9670c4"/>
<rect x="328.16" y="280.6" width="1.8" height="1.8" fill="#9670c4"/>
<line x1="329.06" y1="393" x2="329.06" y2="396.5" stroke="#111" stroke-width="1.3"/>
<text x="332.66" y="405.8" font-size="9.7" text-anchor="end" font-weight="bold" fill="#111" transform="rotate(-45 332.66 405.8)">LUAD</text>
<line x1="348.5" y1="279.9" x2="348.5" y2="343.3" stroke="#5e5e5e" stroke-width="1.3"/>
<line x1="346.3" y1="279.9" x2="350.7" y2="279.9" stroke="#5e5e5e" stroke-width="1.3"/>
<line x1="348.5" y1="387.9" x2="348.5" y2="393" stroke="#5e5e5e" stroke-width="1.3"/>
<rect x="344.05" y="343.3" width="8.9" height="44.6" fill="#d9d9d9" stroke="#5a5a5a" stroke-width="1.3"/>
<line x1="344.05" y1="370.8" x2="352.95" y2="370.8" stroke="#5a5a5a" stroke-width="1.3"/>
<rect x="347.6" y="253.1" width="1.8" height="1.8" fill="#9670c4"/>
<rect x="347.6" y="255.1" width="1.8" height="1.8" fill="#9670c4"/>
<rect x="347.6" y="257.1" width="1.8" height="1.8" fill="#9670c4"/>
<rect x="347.6" y="259.1" width="1.8" height="1.8" fill="#9670c4"/>
<rect x="347.6" y="261.1" width="1.8" height="1.8" fill="#9670c4"/>
<rect x="347.6" y="270.8" width="1.8" height="1.8" fill="#9670c4"/>
<rect x="347.6" y="272.8" width="1.8" height="1.8" fill="#9670c4"/>
<rect x="347.6" y="274.8" width="1.8" height="1.8" fill="#9670c4"/>
<rect x="347.6" y="276.8" width="1.8" height="1.8" fill="#9670c4"/>
<line x1="348.5" y1="393" x2="348.5" y2="396.5" stroke="#111" stroke-width="1.3"/>
<text x="352.1" y="405.8" font-size="9.7" text-anchor="end" font-weight="bold" fill="#111" transform="rotate(-45 352.1 405.8)">PRAD</text>
<line x1="367.94" y1="273.5" x2="367.94" y2="342.6" stroke="#5e5e5e" stroke-width="1.3"/>
<line x1="365.74" y1="273.5" x2="370.14" y2="273.5" stroke="#5e5e5e" stroke-width="1.3"/>
<line x1="367.94" y1="389.6" x2="367.94" y2="393" stroke="#5e5e5e" stroke-width="1.3"/>
<rect x="363.49" y="342.6" width="8.9" height="47" fill="#d9d9d9" stroke="#5a5a5a" stroke-width="1.3"/>
<line x1="363.49" y1="371.5" x2="372.39" y2="371.5" stroke="#5a5a5a" stroke-width="1.3"/>
<rect x="367.04" y="241.9" width="1.8" height="1.8" fill="#9670c4"/>
<rect x="367.04" y="249.1" width="1.8" height="1.8" fill="#9670c4"/>
<rect x="367.04" y="251.5" width="1.8" height="1.8" fill="#9670c4"/>
<rect x="367.04" y="253.9" width="1.8" height="1.8" fill="#9670c4"/>
<rect x="367.04" y="256.3" width="1.8" height="1.8" fill="#9670c4"/>
<rect x="367.04" y="258.7" width="1.8" height="1.8" fill="#9670c4"/>
<rect x="367.04" y="261.1" width="1.8" height="1.8" fill="#9670c4"/>
<line x1="367.94" y1="393" x2="367.94" y2="396.5" stroke="#111" stroke-width="1.3"/>
<text x="371.54" y="405.8" font-size="9.7" text-anchor="end" font-weight="bold" fill="#111" transform="rotate(-45 371.54 405.8)">GBC</text>
<line x1="387.38" y1="271.5" x2="387.38" y2="331.6" stroke="#5e5e5e" stroke-width="1.3"/>
<line x1="387.38" y1="390.3" x2="387.38" y2="393" stroke="#5e5e5e" stroke-width="1.3"/>
<rect x="382.93" y="331.6" width="8.9" height="58.7" fill="#d9d9d9" stroke="#5a5a5a" stroke-width="1.3"/>
<line x1="382.93" y1="372.2" x2="391.83" y2="372.2" stroke="#5a5a5a" stroke-width="1.3"/>
<line x1="387.38" y1="260" x2="387.38" y2="262.5" stroke="#5e5e5e" stroke-width="1.3"/>
<line x1="385.18" y1="260" x2="389.58" y2="260" stroke="#5e5e5e" stroke-width="1.3"/>
<rect x="386.48" y="244.9" width="1.8" height="1.8" fill="#9670c4"/>
<rect x="386.48" y="247.3" width="1.8" height="1.8" fill="#9670c4"/>
<rect x="386.48" y="249.7" width="1.8" height="1.8" fill="#9670c4"/>
<rect x="386.48" y="252.1" width="1.8" height="1.8" fill="#9670c4"/>
<rect x="386.48" y="254.5" width="1.8" height="1.8" fill="#9670c4"/>
<line x1="387.38" y1="393" x2="387.38" y2="396.5" stroke="#111" stroke-width="1.3"/>
<text x="390.98" y="405.8" font-size="9.7" text-anchor="end" font-weight="bold" fill="#111" transform="rotate(-45 390.98 405.8)">UCEC</text>
<line x1="406.82" y1="289.8" x2="406.82" y2="344.5" stroke="#5e5e5e" stroke-width="1.3"/>
<line x1="404.62" y1="289.8" x2="409.02" y2="289.8" stroke="#5e5e5e" stroke-width="1.3"/>
<line x1="406.82" y1="389" x2="406.82" y2="393" stroke="#5e5e5e" stroke-width="1.3"/>
<rect x="402.37" y="344.5" width="8.9" height="44.5" fill="#d9d9d9" stroke="#5a5a5a" stroke-width="1.3"/>
<line x1="402.37" y1="374.3" x2="411.27" y2="374.3" stroke="#5a5a5a" stroke-width="1.3"/>
<rect x="405.92" y="254.3" width="1.8" height="1.8" fill="#9670c4"/>
<rect x="405.92" y="256.1" width="1.8" height="1.8" fill="#9670c4"/>
<rect x="405.92" y="257.9" width="1.8" height="1.8" fill="#9670c4"/>
<rect x="405.92" y="271.9" width="1.8" height="1.8" fill="#9670c4"/>
<rect x="405.92" y="273.7" width="1.8" height="1.8" fill="#9670c4"/>
<rect x="405.92" y="275.5" width="1.8" height="1.8" fill="#9670c4"/>
<rect x="405.92" y="277.3" width="1.8" height="1.8" fill="#9670c4"/>
<rect x="405.92" y="279.1" width="1.8" height="1.8" fill="#9670c4"/>
<rect x="405.92" y="280.9" width="1.8" height="1.8" fill="#9670c4"/>
<rect x="405.92" y="282.7" width="1.8" height="1.8" fill="#9670c4"/>
<rect x="405.92" y="284.5" width="1.8" height="1.8" fill="#9670c4"/>
<rect x="405.92" y="286.3" width="1.8" height="1.8" fill="#9670c4"/>
<line x1="406.82" y1="393" x2="406.82" y2="396.5" stroke="#111" stroke-width="1.3"/>
<text x="410.42" y="405.8" font-size="9.7" text-anchor="end" font-weight="bold" fill="#111" transform="rotate(-45 410.42 405.8)">BLCA</text>
<line x1="426.26" y1="299.1" x2="426.26" y2="346.1" stroke="#5e5e5e" stroke-width="1.3"/>
<line x1="424.06" y1="299.1" x2="428.46" y2="299.1" stroke="#5e5e5e" stroke-width="1.3"/>
<line x1="426.26" y1="390.3" x2="426.26" y2="393" stroke="#5e5e5e" stroke-width="1.3"/>
<rect x="421.81" y="346.1" width="8.9" height="44.2" fill="#d9d9d9" stroke="#5a5a5a" stroke-width="1.3"/>
<line x1="421.81" y1="374.3" x2="430.71" y2="374.3" stroke="#5a5a5a" stroke-width="1.3"/>
<rect x="425.36" y="253.9" width="1.8" height="1.8" fill="#9670c4"/>
<rect x="425.36" y="259.5" width="1.8" height="1.8" fill="#9670c4"/>
<rect x="425.36" y="271.9" width="1.8" height="1.8" fill="#9670c4"/>
<rect x="425.36" y="273.9" width="1.8" height="1.8" fill="#9670c4"/>
<rect x="425.36" y="275.9" width="1.8" height="1.8" fill="#9670c4"/>
<rect x="425.36" y="288.4" width="1.8" height="1.8" fill="#9670c4"/>
<rect x="425.36" y="290.7" width="1.8" height="1.8" fill="#9670c4"/>
<rect x="425.36" y="293" width="1.8" height="1.8" fill="#9670c4"/>
<rect x="425.36" y="295.3" width="1.8" height="1.8" fill="#9670c4"/>
<line x1="426.26" y1="393" x2="426.26" y2="396.5" stroke="#111" stroke-width="1.3"/>
<text x="429.86" y="405.8" font-size="9.7" text-anchor="end" font-weight="bold" fill="#111" transform="rotate(-45 429.86 405.8)">ESCA</text>
<line x1="445.7" y1="306.9" x2="445.7" y2="353.4" stroke="#5e5e5e" stroke-width="1.3"/>
<line x1="443.5" y1="306.9" x2="447.9" y2="306.9" stroke="#5e5e5e" stroke-width="1.3"/>
<line x1="445.7" y1="387.9" x2="445.7" y2="393" stroke="#5e5e5e" stroke-width="1.3"/>
<rect x="441.25" y="353.4" width="8.9" height="34.5" fill="#d9d9d9" stroke="#5a5a5a" stroke-width="1.3"/>
<line x1="441.25" y1="375.7" x2="450.15" y2="375.7" stroke="#5a5a5a" stroke-width="1.3"/>
<rect x="444.8" y="239.8" width="1.8" height="1.8" fill="#9670c4"/>
<rect x="444.8" y="252" width="1.8" height="1.8" fill="#9670c4"/>
<rect x="444.8" y="255.5" width="1.8" height="1.8" fill="#9670c4"/>
<rect x="444.8" y="275.5" width="1.8" height="1.8" fill="#9670c4"/>
<rect x="444.8" y="295.4" width="1.8" height="1.8" fill="#9670c4"/>
<line x1="445.7" y1="393" x2="445.7" y2="396.5" stroke="#111" stroke-width="1.3"/>
<text x="449.3" y="405.8" font-size="9.7" text-anchor="end" font-weight="bold" fill="#111" transform="rotate(-45 449.3 405.8)">CSCC</text>
<line x1="465.14" y1="271.5" x2="465.14" y2="348.5" stroke="#5e5e5e" stroke-width="1.3"/>
<line x1="465.14" y1="388.4" x2="465.14" y2="393" stroke="#5e5e5e" stroke-width="1.3"/>
<rect x="460.69" y="348.5" width="8.9" height="39.9" fill="#d9d9d9" stroke="#5a5a5a" stroke-width="1.3"/>
<line x1="460.69" y1="376.9" x2="469.59" y2="376.9" stroke="#5a5a5a" stroke-width="1.3"/>
<line x1="465.14" y1="258" x2="465.14" y2="262.5" stroke="#5e5e5e" stroke-width="1.3"/>
<line x1="462.94" y1="258" x2="467.34" y2="258" stroke="#5e5e5e" stroke-width="1.3"/>
<rect x="464.24" y="228.5" width="1.8" height="1.8" fill="#9670c4"/>
<rect x="464.24" y="231.4" width="1.8" height="1.8" fill="#9670c4"/>
<rect x="464.24" y="234.3" width="1.8" height="1.8" fill="#9670c4"/>
<rect x="464.24" y="237.2" width="1.8" height="1.8" fill="#9670c4"/>
<rect x="464.24" y="240.1" width="1.8" height="1.8" fill="#9670c4"/>
<rect x="464.24" y="243" width="1.8" height="1.8" fill="#9670c4"/>
<rect x="464.24" y="245.9" width="1.8" height="1.8" fill="#9670c4"/>
<rect x="464.24" y="248.8" width="1.8" height="1.8" fill="#9670c4"/>
<rect x="464.24" y="251.7" width="1.8" height="1.8" fill="#9670c4"/>
<line x1="465.14" y1="393" x2="465.14" y2="396.5" stroke="#111" stroke-width="1.3"/>
<text x="468.74" y="405.8" font-size="9.7" text-anchor="end" font-weight="bold" fill="#111" transform="rotate(-45 468.74 405.8)">THCA</text>
<line x1="484.58" y1="316.3" x2="484.58" y2="364.4" stroke="#5e5e5e" stroke-width="1.3"/>
<line x1="482.38" y1="316.3" x2="486.78" y2="316.3" stroke="#5e5e5e" stroke-width="1.3"/>
<line x1="484.58" y1="390.7" x2="484.58" y2="393" stroke="#5e5e5e" stroke-width="1.3"/>
<rect x="480.13" y="364.4" width="8.9" height="26.3" fill="#d9d9d9" stroke="#5a5a5a" stroke-width="1.3"/>
<line x1="480.13" y1="380.9" x2="489.03" y2="380.9" stroke="#5a5a5a" stroke-width="1.3"/>
<rect x="483.68" y="249.2" width="1.8" height="1.8" fill="#9670c4"/>
<rect x="483.68" y="287.7" width="1.8" height="1.8" fill="#9670c4"/>
<rect x="483.68" y="298.9" width="1.8" height="1.8" fill="#9670c4"/>
<rect x="483.68" y="306.5" width="1.8" height="1.8" fill="#9670c4"/>
<line x1="484.58" y1="393" x2="484.58" y2="396.5" stroke="#111" stroke-width="1.3"/>
<text x="488.18" y="405.8" font-size="9.7" text-anchor="end" font-weight="bold" fill="#111" transform="rotate(-45 488.18 405.8)">NHL</text>
<line x1="504.02" y1="271.5" x2="504.02" y2="343.3" stroke="#5e5e5e" stroke-width="1.3"/>
<line x1="504.02" y1="390.7" x2="504.02" y2="393" stroke="#5e5e5e" stroke-width="1.3"/>
<rect x="499.57" y="343.3" width="8.9" height="47.4" fill="#d9d9d9" stroke="#5a5a5a" stroke-width="1.3"/>
<line x1="499.57" y1="382" x2="508.47" y2="382" stroke="#5a5a5a" stroke-width="1.3"/>
<line x1="504.02" y1="250.5" x2="504.02" y2="262.5" stroke="#5e5e5e" stroke-width="1.3"/>
<line x1="501.82" y1="250.5" x2="506.22" y2="250.5" stroke="#5e5e5e" stroke-width="1.3"/>
<rect x="503.12" y="228.5" width="1.8" height="1.8" fill="#9670c4"/>
<rect x="503.12" y="231.1" width="1.8" height="1.8" fill="#9670c4"/>
<rect x="503.12" y="233.7" width="1.8" height="1.8" fill="#9670c4"/>
<rect x="503.12" y="236.3" width="1.8" height="1.8" fill="#9670c4"/>
<rect x="503.12" y="238.9" width="1.8" height="1.8" fill="#9670c4"/>
<rect x="503.12" y="241.5" width="1.8" height="1.8" fill="#9670c4"/>
<rect x="503.12" y="244.1" width="1.8" height="1.8" fill="#9670c4"/>
<rect x="503.12" y="246.7" width="1.8" height="1.8" fill="#9670c4"/>
<rect x="503.12" y="249.3" width="1.8" height="1.8" fill="#9670c4"/>
<rect x="503.12" y="251.9" width="1.8" height="1.8" fill="#9670c4"/>
<rect x="503.12" y="254.5" width="1.8" height="1.8" fill="#9670c4"/>
<rect x="503.12" y="257.1" width="1.8" height="1.8" fill="#9670c4"/>
<rect x="503.12" y="259.7" width="1.8" height="1.8" fill="#9670c4"/>
<line x1="504.02" y1="393" x2="504.02" y2="396.5" stroke="#111" stroke-width="1.3"/>
<text x="507.62" y="405.8" font-size="9.7" text-anchor="end" font-weight="bold" fill="#111" transform="rotate(-45 507.62 405.8)">PAAD</text>
<text x="19.3" y="309" font-size="10.45" text-anchor="middle" font-weight="bold" fill="#111" transform="rotate(-90 19.3 309)">Copy number alterations</text>
<text x="1.4" y="437.7" font-size="17" text-anchor="start" font-weight="bold" fill="#111">C</text>
<rect x="52.7" y="446.7" width="229.1" height="12.38" fill="#d8d8da"/>
<rect x="281.8" y="446.7" width="49.5" height="12.38" fill="#c8bd84"/>
<rect x="331.3" y="446.7" width="45" height="12.38" fill="#8ebdf6"/>
<rect x="376.3" y="446.7" width="133.7" height="12.38" fill="#fb9c9d"/>
<line x1="281.8" y1="446.7" x2="281.8" y2="459.08" stroke="#3a3a3a" stroke-width="0.9"/>
<line x1="331.3" y1="446.7" x2="331.3" y2="459.08" stroke="#3a3a3a" stroke-width="0.9"/>
<line x1="376.3" y1="446.7" x2="376.3" y2="459.08" stroke="#3a3a3a" stroke-width="0.9"/>
<line x1="48.7" y1="452.89" x2="52.7" y2="452.89" stroke="#111" stroke-width="1.3"/>
<text transform="translate(47.4 456.09) scale(1.065 1.0)" font-size="9.35" text-anchor="end" font-weight="bold" fill="#111">BLCA</text>
<rect x="52.7" y="459.08" width="133.3" height="12.38" fill="#d8d8da"/>
<rect x="186" y="459.08" width="72.6" height="12.38" fill="#c8bd84"/>
<rect x="258.6" y="459.08" width="125.7" height="12.38" fill="#8ebdf6"/>
<rect x="384.3" y="459.08" width="125.7" height="12.38" fill="#fb9c9d"/>
<line x1="186" y1="459.08" x2="186" y2="471.46" stroke="#3a3a3a" stroke-width="0.9"/>
<line x1="258.6" y1="459.08" x2="258.6" y2="471.46" stroke="#3a3a3a" stroke-width="0.9"/>
<line x1="384.3" y1="459.08" x2="384.3" y2="471.46" stroke="#3a3a3a" stroke-width="0.9"/>
<line x1="48.7" y1="465.27" x2="52.7" y2="465.27" stroke="#111" stroke-width="1.3"/>
<text transform="translate(47.4 468.47) scale(1.065 1.0)" font-size="9.35" text-anchor="end" font-weight="bold" fill="#111">UCEC</text>
<rect x="52.7" y="471.46" width="177.6" height="12.38" fill="#d8d8da"/>
<rect x="230.3" y="471.46" width="118.4" height="12.38" fill="#c8bd84"/>
<rect x="348.7" y="471.46" width="43.2" height="12.38" fill="#8ebdf6"/>
<rect x="391.9" y="471.46" width="118.1" height="12.38" fill="#fb9c9d"/>
<line x1="230.3" y1="471.46" x2="230.3" y2="483.84" stroke="#3a3a3a" stroke-width="0.9"/>
<line x1="348.7" y1="471.46" x2="348.7" y2="483.84" stroke="#3a3a3a" stroke-width="0.9"/>
<line x1="391.9" y1="471.46" x2="391.9" y2="483.84" stroke="#3a3a3a" stroke-width="0.9"/>
<line x1="48.7" y1="477.65" x2="52.7" y2="477.65" stroke="#111" stroke-width="1.3"/>
<text transform="translate(47.4 480.85) scale(1.065 1.0)" font-size="9.35" text-anchor="end" font-weight="bold" fill="#111">NHL</text>
<rect x="52.7" y="483.84" width="237.1" height="12.38" fill="#d8d8da"/>
<rect x="289.8" y="483.84" width="77.9" height="12.38" fill="#c8bd84"/>
<rect x="367.7" y="483.84" width="41.5" height="12.38" fill="#8ebdf6"/>
<rect x="409.2" y="483.84" width="100.8" height="12.38" fill="#fb9c9d"/>
<line x1="289.8" y1="483.84" x2="289.8" y2="496.22" stroke="#3a3a3a" stroke-width="0.9"/>
<line x1="367.7" y1="483.84" x2="367.7" y2="496.22" stroke="#3a3a3a" stroke-width="0.9"/>
<line x1="409.2" y1="483.84" x2="409.2" y2="496.22" stroke="#3a3a3a" stroke-width="0.9"/>
<line x1="48.7" y1="490.03" x2="52.7" y2="490.03" stroke="#111" stroke-width="1.3"/>
<text transform="translate(47.4 493.23) scale(1.065 1.0)" font-size="9.35" text-anchor="end" font-weight="bold" fill="#111">LUSC</text>
<rect x="52.7" y="496.22" width="175.5" height="12.38" fill="#d8d8da"/>
<rect x="228.2" y="496.22" width="98.6" height="12.38" fill="#c8bd84"/>
<rect x="326.8" y="496.22" width="86.6" height="12.38" fill="#8ebdf6"/>
<rect x="413.4" y="496.22" width="96.6" height="12.38" fill="#fb9c9d"/>
<line x1="228.2" y1="496.22" x2="228.2" y2="508.6" stroke="#3a3a3a" stroke-width="0.9"/>
<line x1="326.8" y1="496.22" x2="326.8" y2="508.6" stroke="#3a3a3a" stroke-width="0.9"/>
<line x1="413.4" y1="496.22" x2="413.4" y2="508.6" stroke="#3a3a3a" stroke-width="0.9"/>
<line x1="48.7" y1="502.41" x2="52.7" y2="502.41" stroke="#111" stroke-width="1.3"/>
<text transform="translate(47.4 505.61) scale(1.065 1.0)" font-size="9.35" text-anchor="end" font-weight="bold" fill="#111">LUAD</text>
<rect x="52.7" y="508.59" width="255.4" height="12.38" fill="#d8d8da"/>
<rect x="308.1" y="508.59" width="48.2" height="12.38" fill="#c8bd84"/>
<rect x="356.3" y="508.59" width="60.5" height="12.38" fill="#8ebdf6"/>
<rect x="416.8" y="508.59" width="93.2" height="12.38" fill="#fb9c9d"/>
<line x1="308.1" y1="508.59" x2="308.1" y2="520.97" stroke="#3a3a3a" stroke-width="0.9"/>
<line x1="356.3" y1="508.59" x2="356.3" y2="520.97" stroke="#3a3a3a" stroke-width="0.9"/>
<line x1="416.8" y1="508.59" x2="416.8" y2="520.97" stroke="#3a3a3a" stroke-width="0.9"/>
<line x1="48.7" y1="514.78" x2="52.7" y2="514.78" stroke="#111" stroke-width="1.3"/>
<text transform="translate(47.4 517.98) scale(1.065 1.0)" font-size="9.35" text-anchor="end" font-weight="bold" fill="#111">COAD</text>
<rect x="52.7" y="520.97" width="155.8" height="12.38" fill="#d8d8da"/>
<rect x="208.5" y="520.97" width="119.4" height="12.38" fill="#c8bd84"/>
<rect x="327.9" y="520.97" width="102.8" height="12.38" fill="#8ebdf6"/>
<rect x="430.7" y="520.97" width="79.3" height="12.38" fill="#fb9c9d"/>
<line x1="208.5" y1="520.97" x2="208.5" y2="533.35" stroke="#3a3a3a" stroke-width="0.9"/>
<line x1="327.9" y1="520.97" x2="327.9" y2="533.35" stroke="#3a3a3a" stroke-width="0.9"/>
<line x1="430.7" y1="520.97" x2="430.7" y2="533.35" stroke="#3a3a3a" stroke-width="0.9"/>
<line x1="48.7" y1="527.16" x2="52.7" y2="527.16" stroke="#111" stroke-width="1.3"/>
<text transform="translate(47.4 530.36) scale(1.065 1.0)" font-size="9.35" text-anchor="end" font-weight="bold" fill="#111">ESCA</text>
<rect x="52.7" y="533.35" width="151.3" height="12.38" fill="#d8d8da"/>
<rect x="204" y="533.35" width="99.3" height="12.38" fill="#c8bd84"/>
<rect x="303.3" y="533.35" width="127.5" height="12.38" fill="#8ebdf6"/>
<rect x="430.8" y="533.35" width="79.2" height="12.38" fill="#fb9c9d"/>
<line x1="204" y1="533.35" x2="204" y2="545.73" stroke="#3a3a3a" stroke-width="0.9"/>
<line x1="303.3" y1="533.35" x2="303.3" y2="545.73" stroke="#3a3a3a" stroke-width="0.9"/>
<line x1="430.8" y1="533.35" x2="430.8" y2="545.73" stroke="#3a3a3a" stroke-width="0.9"/>
<line x1="48.7" y1="539.54" x2="52.7" y2="539.54" stroke="#111" stroke-width="1.3"/>
<text transform="translate(47.4 542.74) scale(1.065 1.0)" font-size="9.35" text-anchor="end" font-weight="bold" fill="#111">CSCC</text>
<rect x="52.7" y="545.73" width="167.1" height="12.38" fill="#d8d8da"/>
<rect x="219.8" y="545.73" width="111" height="12.38" fill="#c8bd84"/>
<rect x="330.8" y="545.73" width="103.8" height="12.38" fill="#8ebdf6"/>
<rect x="434.6" y="545.73" width="75.4" height="12.38" fill="#fb9c9d"/>
<line x1="219.8" y1="545.73" x2="219.8" y2="558.11" stroke="#3a3a3a" stroke-width="0.9"/>
<line x1="330.8" y1="545.73" x2="330.8" y2="558.11" stroke="#3a3a3a" stroke-width="0.9"/>
<line x1="434.6" y1="545.73" x2="434.6" y2="558.11" stroke="#3a3a3a" stroke-width="0.9"/>
<line x1="48.7" y1="551.92" x2="52.7" y2="551.92" stroke="#111" stroke-width="1.3"/>
<text transform="translate(47.4 555.12) scale(1.065 1.0)" font-size="9.35" text-anchor="end" font-weight="bold" fill="#111">CUP</text>
<rect x="52.7" y="558.11" width="91.9" height="12.38" fill="#d8d8da"/>
<rect x="144.6" y="558.11" width="180.6" height="12.38" fill="#c8bd84"/>
<rect x="325.2" y="558.11" width="129.3" height="12.38" fill="#8ebdf6"/>
<rect x="454.5" y="558.11" width="55.5" height="12.38" fill="#fb9c9d"/>
<line x1="144.6" y1="558.11" x2="144.6" y2="570.49" stroke="#3a3a3a" stroke-width="0.9"/>
<line x1="325.2" y1="558.11" x2="325.2" y2="570.49" stroke="#3a3a3a" stroke-width="0.9"/>
<line x1="454.5" y1="558.11" x2="454.5" y2="570.49" stroke="#3a3a3a" stroke-width="0.9"/>
<line x1="48.7" y1="564.3" x2="52.7" y2="564.3" stroke="#111" stroke-width="1.3"/>
<text transform="translate(47.4 567.5) scale(1.065 1.0)" font-size="9.35" text-anchor="end" font-weight="bold" fill="#111">PAAD</text>
<rect x="52.7" y="570.49" width="70.2" height="12.38" fill="#d8d8da"/>
<rect x="122.9" y="570.49" width="125.6" height="12.38" fill="#c8bd84"/>
<rect x="248.5" y="570.49" width="208.3" height="12.38" fill="#8ebdf6"/>
<rect x="456.8" y="570.49" width="53.2" height="12.38" fill="#fb9c9d"/>
<line x1="122.9" y1="570.49" x2="122.9" y2="582.87" stroke="#3a3a3a" stroke-width="0.9"/>
<line x1="248.5" y1="570.49" x2="248.5" y2="582.87" stroke="#3a3a3a" stroke-width="0.9"/>
<line x1="456.8" y1="570.49" x2="456.8" y2="582.87" stroke="#3a3a3a" stroke-width="0.9"/>
<line x1="48.7" y1="576.68" x2="52.7" y2="576.68" stroke="#111" stroke-width="1.3"/>
<text transform="translate(47.4 579.88) scale(1.065 1.0)" font-size="9.35" text-anchor="end" font-weight="bold" fill="#111">GBC</text>
<rect x="52.7" y="582.87" width="233.6" height="12.38" fill="#d8d8da"/>
<rect x="286.3" y="582.87" width="49.1" height="12.38" fill="#c8bd84"/>
<rect x="335.4" y="582.87" width="124.6" height="12.38" fill="#8ebdf6"/>
<rect x="460" y="582.87" width="50" height="12.38" fill="#fb9c9d"/>
<line x1="286.3" y1="582.87" x2="286.3" y2="595.25" stroke="#3a3a3a" stroke-width="0.9"/>
<line x1="335.4" y1="582.87" x2="335.4" y2="595.25" stroke="#3a3a3a" stroke-width="0.9"/>
<line x1="460" y1="582.87" x2="460" y2="595.25" stroke="#3a3a3a" stroke-width="0.9"/>
<line x1="48.7" y1="589.06" x2="52.7" y2="589.06" stroke="#111" stroke-width="1.3"/>
<text transform="translate(47.4 592.26) scale(1.065 1.0)" font-size="9.35" text-anchor="end" font-weight="bold" fill="#111">SKCM</text>
<rect x="52.7" y="595.25" width="108.1" height="12.38" fill="#d8d8da"/>
<rect x="160.8" y="595.25" width="105.2" height="12.38" fill="#c8bd84"/>
<rect x="266" y="595.25" width="196.3" height="12.38" fill="#8ebdf6"/>
<rect x="462.3" y="595.25" width="47.7" height="12.38" fill="#fb9c9d"/>
<line x1="160.8" y1="595.25" x2="160.8" y2="607.63" stroke="#3a3a3a" stroke-width="0.9"/>
<line x1="266" y1="595.25" x2="266" y2="607.63" stroke="#3a3a3a" stroke-width="0.9"/>
<line x1="462.3" y1="595.25" x2="462.3" y2="607.63" stroke="#3a3a3a" stroke-width="0.9"/>
<line x1="48.7" y1="601.44" x2="52.7" y2="601.44" stroke="#111" stroke-width="1.3"/>
<text transform="translate(47.4 604.64) scale(1.065 1.0)" font-size="9.35" text-anchor="end" font-weight="bold" fill="#111">LIHC</text>
<rect x="52.7" y="607.63" width="103.5" height="12.38" fill="#d8d8da"/>
<rect x="156.2" y="607.63" width="116.7" height="12.38" fill="#c8bd84"/>
<rect x="272.9" y="607.63" width="191.7" height="12.38" fill="#8ebdf6"/>
<rect x="464.6" y="607.63" width="45.4" height="12.38" fill="#fb9c9d"/>
<line x1="156.2" y1="607.63" x2="156.2" y2="620.01" stroke="#3a3a3a" stroke-width="0.9"/>
<line x1="272.9" y1="607.63" x2="272.9" y2="620.01" stroke="#3a3a3a" stroke-width="0.9"/>
<line x1="464.6" y1="607.63" x2="464.6" y2="620.01" stroke="#3a3a3a" stroke-width="0.9"/>
<line x1="48.7" y1="613.82" x2="52.7" y2="613.82" stroke="#111" stroke-width="1.3"/>
<text transform="translate(47.4 617.02) scale(1.065 1.0)" font-size="9.35" text-anchor="end" font-weight="bold" fill="#111">RCC</text>
<rect x="52.7" y="620.01" width="130.2" height="12.38" fill="#d8d8da"/>
<rect x="182.9" y="620.01" width="110" height="12.38" fill="#c8bd84"/>
<rect x="292.9" y="620.01" width="173.1" height="12.38" fill="#8ebdf6"/>
<rect x="466" y="620.01" width="44" height="12.38" fill="#fb9c9d"/>
<line x1="182.9" y1="620.01" x2="182.9" y2="632.38" stroke="#3a3a3a" stroke-width="0.9"/>
<line x1="292.9" y1="620.01" x2="292.9" y2="632.38" stroke="#3a3a3a" stroke-width="0.9"/>
<line x1="466" y1="620.01" x2="466" y2="632.38" stroke="#3a3a3a" stroke-width="0.9"/>
<line x1="48.7" y1="626.2" x2="52.7" y2="626.2" stroke="#111" stroke-width="1.3"/>
<text transform="translate(47.4 629.4) scale(1.065 1.0)" font-size="9.35" text-anchor="end" font-weight="bold" fill="#111">HNSC</text>
<rect x="52.7" y="632.38" width="75.8" height="12.38" fill="#d8d8da"/>
<rect x="128.5" y="632.38" width="164" height="12.38" fill="#c8bd84"/>
<rect x="292.5" y="632.38" width="174.4" height="12.38" fill="#8ebdf6"/>
<rect x="466.9" y="632.38" width="43.1" height="12.38" fill="#fb9c9d"/>
<line x1="128.5" y1="632.38" x2="128.5" y2="644.76" stroke="#3a3a3a" stroke-width="0.9"/>
<line x1="292.5" y1="632.38" x2="292.5" y2="644.76" stroke="#3a3a3a" stroke-width="0.9"/>
<line x1="466.9" y1="632.38" x2="466.9" y2="644.76" stroke="#3a3a3a" stroke-width="0.9"/>
<line x1="48.7" y1="638.57" x2="52.7" y2="638.57" stroke="#111" stroke-width="1.3"/>
<text transform="translate(47.4 641.77) scale(1.065 1.0)" font-size="9.35" text-anchor="end" font-weight="bold" fill="#111">THCA</text>
<rect x="52.7" y="644.76" width="182.3" height="12.38" fill="#d8d8da"/>
<rect x="235" y="644.76" width="45.8" height="12.38" fill="#c8bd84"/>
<rect x="280.8" y="644.76" width="200.9" height="12.38" fill="#8ebdf6"/>
<rect x="481.7" y="644.76" width="28.3" height="12.38" fill="#fb9c9d"/>
<line x1="235" y1="644.76" x2="235" y2="657.14" stroke="#3a3a3a" stroke-width="0.9"/>
<line x1="280.8" y1="644.76" x2="280.8" y2="657.14" stroke="#3a3a3a" stroke-width="0.9"/>
<line x1="481.7" y1="644.76" x2="481.7" y2="657.14" stroke="#3a3a3a" stroke-width="0.9"/>
<line x1="48.7" y1="650.95" x2="52.7" y2="650.95" stroke="#111" stroke-width="1.3"/>
<text transform="translate(47.4 654.15) scale(1.065 1.0)" font-size="9.35" text-anchor="end" font-weight="bold" fill="#111">GBM</text>
<rect x="52.7" y="657.14" width="113.6" height="12.38" fill="#d8d8da"/>
<rect x="166.3" y="657.14" width="59.1" height="12.38" fill="#c8bd84"/>
<rect x="225.4" y="657.14" width="260.9" height="12.38" fill="#8ebdf6"/>
<rect x="486.3" y="657.14" width="23.7" height="12.38" fill="#fb9c9d"/>
<line x1="166.3" y1="657.14" x2="166.3" y2="669.52" stroke="#3a3a3a" stroke-width="0.9"/>
<line x1="225.4" y1="657.14" x2="225.4" y2="669.52" stroke="#3a3a3a" stroke-width="0.9"/>
<line x1="486.3" y1="657.14" x2="486.3" y2="669.52" stroke="#3a3a3a" stroke-width="0.9"/>
<line x1="48.7" y1="663.33" x2="52.7" y2="663.33" stroke="#111" stroke-width="1.3"/>
<text transform="translate(47.4 666.53) scale(1.065 1.0)" font-size="9.35" text-anchor="end" font-weight="bold" fill="#111">OA</text>
<rect x="52.7" y="669.52" width="152.8" height="12.38" fill="#d8d8da"/>
<rect x="205.5" y="669.52" width="58.2" height="12.38" fill="#c8bd84"/>
<rect x="263.7" y="669.52" width="224" height="12.38" fill="#8ebdf6"/>
<rect x="487.7" y="669.52" width="22.3" height="12.38" fill="#fb9c9d"/>
<line x1="205.5" y1="669.52" x2="205.5" y2="681.9" stroke="#3a3a3a" stroke-width="0.9"/>
<line x1="263.7" y1="669.52" x2="263.7" y2="681.9" stroke="#3a3a3a" stroke-width="0.9"/>
<line x1="487.7" y1="669.52" x2="487.7" y2="681.9" stroke="#3a3a3a" stroke-width="0.9"/>
<line x1="48.7" y1="675.71" x2="52.7" y2="675.71" stroke="#111" stroke-width="1.3"/>
<text transform="translate(47.4 678.91) scale(1.065 1.0)" font-size="9.35" text-anchor="end" font-weight="bold" fill="#111">BRCA</text>
<rect x="52.7" y="681.9" width="65.6" height="12.38" fill="#d8d8da"/>
<rect x="118.3" y="681.9" width="163.2" height="12.38" fill="#c8bd84"/>
<rect x="281.5" y="681.9" width="213.1" height="12.38" fill="#8ebdf6"/>
<rect x="494.6" y="681.9" width="15.4" height="12.38" fill="#fb9c9d"/>
<line x1="118.3" y1="681.9" x2="118.3" y2="694.28" stroke="#3a3a3a" stroke-width="0.9"/>
<line x1="281.5" y1="681.9" x2="281.5" y2="694.28" stroke="#3a3a3a" stroke-width="0.9"/>
<line x1="494.6" y1="681.9" x2="494.6" y2="694.28" stroke="#3a3a3a" stroke-width="0.9"/>
<line x1="48.7" y1="688.09" x2="52.7" y2="688.09" stroke="#111" stroke-width="1.3"/>
<text transform="translate(47.4 691.29) scale(1.065 1.0)" font-size="9.35" text-anchor="end" font-weight="bold" fill="#111">PRAD</text>
<rect x="52.7" y="694.28" width="342.7" height="12.38" fill="#d8d8da"/>
<rect x="395.4" y="694.28" width="5.5" height="12.38" fill="#c8bd84"/>
<rect x="400.9" y="694.28" width="99.3" height="12.38" fill="#8ebdf6"/>
<rect x="500.2" y="694.28" width="9.8" height="12.38" fill="#fb9c9d"/>
<line x1="395.4" y1="694.28" x2="395.4" y2="706.66" stroke="#3a3a3a" stroke-width="0.9"/>
<line x1="400.9" y1="694.28" x2="400.9" y2="706.66" stroke="#3a3a3a" stroke-width="0.9"/>
<line x1="500.2" y1="694.28" x2="500.2" y2="706.66" stroke="#3a3a3a" stroke-width="0.9"/>
<line x1="48.7" y1="700.47" x2="52.7" y2="700.47" stroke="#111" stroke-width="1.3"/>
<text transform="translate(47.4 703.67) scale(1.065 1.0)" font-size="9.35" text-anchor="end" font-weight="bold" fill="#111">SCLC</text>
<rect x="52.7" y="706.66" width="52.7" height="12.38" fill="#d8d8da"/>
<rect x="105.4" y="706.66" width="139.8" height="12.38" fill="#c8bd84"/>
<rect x="245.2" y="706.66" width="255.4" height="12.38" fill="#8ebdf6"/>
<rect x="500.6" y="706.66" width="9.4" height="12.38" fill="#fb9c9d"/>
<line x1="105.4" y1="706.66" x2="105.4" y2="719.04" stroke="#3a3a3a" stroke-width="0.9"/>
<line x1="245.2" y1="706.66" x2="245.2" y2="719.04" stroke="#3a3a3a" stroke-width="0.9"/>
<line x1="500.6" y1="706.66" x2="500.6" y2="719.04" stroke="#3a3a3a" stroke-width="0.9"/>
<line x1="48.7" y1="712.85" x2="52.7" y2="712.85" stroke="#111" stroke-width="1.3"/>
<text transform="translate(47.4 716.05) scale(1.065 1.0)" font-size="9.35" text-anchor="end" font-weight="bold" fill="#111">SARC</text>
<rect x="52.7" y="719.04" width="42.5" height="12.38" fill="#d8d8da"/>
<rect x="95.2" y="719.04" width="116.3" height="12.38" fill="#c8bd84"/>
<rect x="211.5" y="719.04" width="295.5" height="12.38" fill="#8ebdf6"/>
<rect x="507" y="719.04" width="3" height="12.38" fill="#fb9c9d"/>
<line x1="95.2" y1="719.04" x2="95.2" y2="731.42" stroke="#3a3a3a" stroke-width="0.9"/>
<line x1="211.5" y1="719.04" x2="211.5" y2="731.42" stroke="#3a3a3a" stroke-width="0.9"/>
<line x1="507" y1="719.04" x2="507" y2="731.42" stroke="#3a3a3a" stroke-width="0.9"/>
<line x1="48.7" y1="725.23" x2="52.7" y2="725.23" stroke="#111" stroke-width="1.3"/>
<text transform="translate(47.4 728.43) scale(1.065 1.0)" font-size="9.35" text-anchor="end" font-weight="bold" fill="#111">GIST</text>
<rect x="52.7" y="731.42" width="24.1" height="12.38" fill="#d8d8da"/>
<rect x="76.8" y="731.42" width="114" height="12.38" fill="#c8bd84"/>
<rect x="190.8" y="731.42" width="318.6" height="12.38" fill="#8ebdf6"/>
<rect x="509.4" y="731.42" width="0.6" height="12.38" fill="#fb9c9d"/>
<line x1="76.8" y1="731.42" x2="76.8" y2="743.8" stroke="#3a3a3a" stroke-width="0.9"/>
<line x1="190.8" y1="731.42" x2="190.8" y2="743.8" stroke="#3a3a3a" stroke-width="0.9"/>
<line x1="509.4" y1="731.42" x2="509.4" y2="743.8" stroke="#3a3a3a" stroke-width="0.9"/>
<line x1="48.7" y1="737.61" x2="52.7" y2="737.61" stroke="#111" stroke-width="1.3"/>
<text transform="translate(47.4 740.81) scale(1.065 1.0)" font-size="9.35" text-anchor="end" font-weight="bold" fill="#111">TGCT</text>
<line x1="52.7" y1="446.7" x2="510" y2="446.7" stroke="#3a3a3a" stroke-width="1.1"/>
<line x1="52.7" y1="459.08" x2="510" y2="459.08" stroke="#3a3a3a" stroke-width="1.1"/>
<line x1="52.7" y1="471.46" x2="510" y2="471.46" stroke="#3a3a3a" stroke-width="1.1"/>
<line x1="52.7" y1="483.84" x2="510" y2="483.84" stroke="#3a3a3a" stroke-width="1.1"/>
<line x1="52.7" y1="496.22" x2="510" y2="496.22" stroke="#3a3a3a" stroke-width="1.1"/>
<line x1="52.7" y1="508.59" x2="510" y2="508.59" stroke="#3a3a3a" stroke-width="1.1"/>
<line x1="52.7" y1="520.97" x2="510" y2="520.97" stroke="#3a3a3a" stroke-width="1.1"/>
<line x1="52.7" y1="533.35" x2="510" y2="533.35" stroke="#3a3a3a" stroke-width="1.1"/>
<line x1="52.7" y1="545.73" x2="510" y2="545.73" stroke="#3a3a3a" stroke-width="1.1"/>
<line x1="52.7" y1="558.11" x2="510" y2="558.11" stroke="#3a3a3a" stroke-width="1.1"/>
<line x1="52.7" y1="570.49" x2="510" y2="570.49" stroke="#3a3a3a" stroke-width="1.1"/>
<line x1="52.7" y1="582.87" x2="510" y2="582.87" stroke="#3a3a3a" stroke-width="1.1"/>
<line x1="52.7" y1="595.25" x2="510" y2="595.25" stroke="#3a3a3a" stroke-width="1.1"/>
<line x1="52.7" y1="607.63" x2="510" y2="607.63" stroke="#3a3a3a" stroke-width="1.1"/>
<line x1="52.7" y1="620.01" x2="510" y2="620.01" stroke="#3a3a3a" stroke-width="1.1"/>
<line x1="52.7" y1="632.38" x2="510" y2="632.38" stroke="#3a3a3a" stroke-width="1.1"/>
<line x1="52.7" y1="644.76" x2="510" y2="644.76" stroke="#3a3a3a" stroke-width="1.1"/>
<line x1="52.7" y1="657.14" x2="510" y2="657.14" stroke="#3a3a3a" stroke-width="1.1"/>
<line x1="52.7" y1="669.52" x2="510" y2="669.52" stroke="#3a3a3a" stroke-width="1.1"/>
<line x1="52.7" y1="681.9" x2="510" y2="681.9" stroke="#3a3a3a" stroke-width="1.1"/>
<line x1="52.7" y1="694.28" x2="510" y2="694.28" stroke="#3a3a3a" stroke-width="1.1"/>
<line x1="52.7" y1="706.66" x2="510" y2="706.66" stroke="#3a3a3a" stroke-width="1.1"/>
<line x1="52.7" y1="719.04" x2="510" y2="719.04" stroke="#3a3a3a" stroke-width="1.1"/>
<line x1="52.7" y1="731.42" x2="510" y2="731.42" stroke="#3a3a3a" stroke-width="1.1"/>
<line x1="52.7" y1="743.8" x2="510" y2="743.8" stroke="#3a3a3a" stroke-width="1.1"/>
<line x1="510" y1="446.7" x2="510" y2="743.8" stroke="#3a3a3a" stroke-width="1.1"/>
<line x1="52.7" y1="446.2" x2="52.7" y2="744.4" stroke="#111" stroke-width="1.5"/>
<line x1="52" y1="743.8" x2="510.7" y2="743.8" stroke="#111" stroke-width="1.5"/>
<line x1="52.7" y1="743.8" x2="52.7" y2="747.3" stroke="#111" stroke-width="1.3"/>
<text x="56" y="757.6" font-size="9.6" text-anchor="end" font-weight="bold" fill="#111" transform="rotate(-45 56 757.6)">0</text>
<line x1="144.16" y1="743.8" x2="144.16" y2="747.3" stroke="#111" stroke-width="1.3"/>
<text x="147.46" y="757.6" font-size="9.6" text-anchor="end" font-weight="bold" fill="#111" transform="rotate(-45 147.46 757.6)">20</text>
<line x1="235.62" y1="743.8" x2="235.62" y2="747.3" stroke="#111" stroke-width="1.3"/>
<text x="238.92" y="757.6" font-size="9.6" text-anchor="end" font-weight="bold" fill="#111" transform="rotate(-45 238.92 757.6)">40</text>
<line x1="327.08" y1="743.8" x2="327.08" y2="747.3" stroke="#111" stroke-width="1.3"/>
<text x="330.38" y="757.6" font-size="9.6" text-anchor="end" font-weight="bold" fill="#111" transform="rotate(-45 330.38 757.6)">60</text>
<line x1="418.54" y1="743.8" x2="418.54" y2="747.3" stroke="#111" stroke-width="1.3"/>
<text x="421.84" y="757.6" font-size="9.6" text-anchor="end" font-weight="bold" fill="#111" transform="rotate(-45 421.84 757.6)">80</text>
<line x1="510" y1="743.8" x2="510" y2="747.3" stroke="#111" stroke-width="1.3"/>
<text x="513.3" y="757.6" font-size="9.6" text-anchor="end" font-weight="bold" fill="#111" transform="rotate(-45 513.3 757.6)">100</text>
<rect x="58.8" y="448.8" width="104.3" height="68.5" fill="#dcdcdc" stroke="#9a9a9a" stroke-width="1.1"/>
<rect x="60.8" y="455.7" width="12.8" height="6.6" fill="#fb9c9d" stroke="#777" stroke-width="0.9"/>
<text transform="translate(82.4 463.4) scale(1.1 1)" font-size="9.3" font-weight="bold" fill="#111">TMB<tspan font-size="7.1" dy="-4.6">high</tspan><tspan dy="4.6">CNA</tspan><tspan font-size="7.1" dy="-4.6">low</tspan></text>
<rect x="60.8" y="472.7" width="12.8" height="6.6" fill="#8ebdf6" stroke="#777" stroke-width="0.9"/>
<text transform="translate(82.4 480.4) scale(1.1 1)" font-size="9.3" font-weight="bold" fill="#111">TMB<tspan font-size="7.1" dy="-4.6">low</tspan><tspan dy="4.6">CNA</tspan><tspan font-size="7.1" dy="-4.6">high</tspan></text>
<rect x="60.8" y="489.7" width="12.8" height="6.6" fill="#c8bd84" stroke="#777" stroke-width="0.9"/>
<text transform="translate(82.4 497.4) scale(1.1 1)" font-size="9.3" font-weight="bold" fill="#111">TMB<tspan font-size="7.1" dy="-4.6">low</tspan><tspan dy="4.6">CNA</tspan><tspan font-size="7.1" dy="-4.6">low</tspan></text>
<rect x="60.8" y="506.7" width="12.8" height="6.6" fill="#d8d8da" stroke="#777" stroke-width="0.9"/>
<text transform="translate(82.4 514.4) scale(1.1 1)" font-size="9.3" font-weight="bold" fill="#111">TMB<tspan font-size="7.1" dy="-4.6">high</tspan><tspan dy="4.6">CNA</tspan><tspan font-size="7.1" dy="-4.6">high</tspan></text>
</svg>
</body></html>
